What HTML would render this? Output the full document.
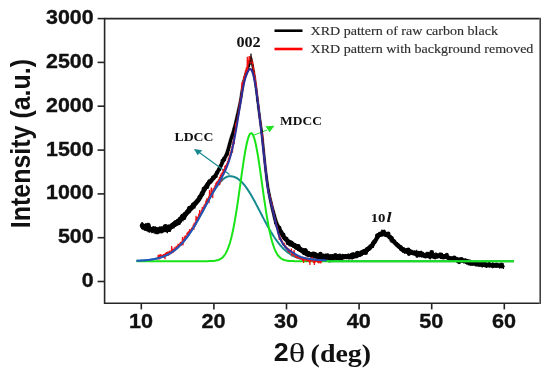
<!DOCTYPE html>
<html><head><meta charset="utf-8"><style>
html,body{margin:0;padding:0;background:#fff;width:550px;height:376px;overflow:hidden}
svg{display:block;filter:blur(0.3px)}
.tk{font-family:"Liberation Sans",Arial,sans-serif;font-weight:bold;font-size:20px;fill:#111;stroke:#111;stroke-width:0.35px}
.sr{font-family:"Liberation Serif","Times New Roman",serif}
</style></head><body>
<svg width="550" height="376" viewBox="0 0 550 376">
<defs><linearGradient id="bg1" gradientUnits="userSpaceOnUse" x1="136" y1="0" x2="327" y2="0">
<stop offset="0" stop-color="#2258c0"/><stop offset="0.42" stop-color="#2254bb"/><stop offset="0.53" stop-color="#2a2c98"/>
<stop offset="0.75" stop-color="#2a2c98"/><stop offset="0.85" stop-color="#2450b8"/><stop offset="1" stop-color="#2254bb"/></linearGradient></defs>
<rect x="0" y="0" width="550" height="376" fill="#fff"/>
<!-- frame -->
<path d="M540.2 17.8V304.1" fill="none" stroke="#404040" stroke-width="1.6"/>
<path d="M539.4 18.6H104.6V303.3H539.4" fill="none" stroke="#262626" stroke-width="1.6"/>
<g stroke="#222" stroke-width="1.6">
<line x1="97.6" y1="18.6" x2="104.6" y2="18.6"/>
<line x1="97.6" y1="62.4" x2="104.6" y2="62.4"/>
<line x1="97.6" y1="106.2" x2="104.6" y2="106.2"/>
<line x1="97.6" y1="150.1" x2="104.6" y2="150.1"/>
<line x1="97.6" y1="193.9" x2="104.6" y2="193.9"/>
<line x1="97.6" y1="237.7" x2="104.6" y2="237.7"/>
<line x1="97.6" y1="281.5" x2="104.6" y2="281.5"/>
<line x1="141.3" y1="303.3" x2="141.3" y2="309.4"/>
<line x1="213.9" y1="303.3" x2="213.9" y2="309.4"/>
<line x1="286.5" y1="303.3" x2="286.5" y2="309.4"/>
<line x1="359.1" y1="303.3" x2="359.1" y2="309.4"/>
<line x1="431.7" y1="303.3" x2="431.7" y2="309.4"/>
<line x1="504.3" y1="303.3" x2="504.3" y2="309.4"/>
</g>
<g class="tk" text-anchor="end">
<text transform="translate(93.6,24.0) scale(1.07,1)">3000</text>
<text transform="translate(93.6,67.8) scale(1.07,1)">2500</text>
<text transform="translate(93.6,111.6) scale(1.07,1)">2000</text>
<text transform="translate(93.6,155.5) scale(1.07,1)">1500</text>
<text transform="translate(93.6,199.3) scale(1.07,1)">1000</text>
<text transform="translate(93.6,243.1) scale(1.07,1)">500</text>
<text transform="translate(93.6,286.9) scale(1.07,1)">0</text>
</g>
<g class="tk" text-anchor="middle">
<text transform="translate(140.9,327.7) scale(1.08,1)">10</text>
<text transform="translate(213.5,327.7) scale(1.08,1)">20</text>
<text transform="translate(286.1,327.7) scale(1.08,1)">30</text>
<text transform="translate(358.7,327.7) scale(1.08,1)">40</text>
<text transform="translate(431.3,327.7) scale(1.08,1)">50</text>
<text transform="translate(503.9,327.7) scale(1.08,1)">60</text>
</g>
<text transform="translate(29.7,143.6) rotate(-90) scale(1,1.08)" text-anchor="middle" style="font-family:'Liberation Sans',Arial,sans-serif;font-weight:bold;font-size:25px;fill:#111">Intensity (a.u.)</text>
<text transform="translate(273.7,361.3) scale(1.04,1)" style="font-family:'Liberation Sans',Arial,sans-serif;font-weight:bold;font-size:25.8px;fill:#111">2</text>
<text class="sr" transform="translate(288.8,361.6) scale(1.28,1)" style="font-size:27px;fill:#111">θ</text>
<text class="sr" transform="translate(310.6,361.6) scale(1.074,1)" style="font-weight:bold;font-size:26px;fill:#111">(deg)</text>
<!-- legend -->
<line x1="274.5" y1="30.7" x2="302.5" y2="30.7" stroke="#000" stroke-width="2.6"/>
<line x1="274.5" y1="49" x2="302.5" y2="49" stroke="#f00" stroke-width="2.6"/>
<g class="sr" style="font-size:13px;fill:#2e2e2e;stroke:#2e2e2e;stroke-width:0.15px">
<text transform="translate(310.6,34.8) scale(1.08,1)">XRD pattern of raw carbon black</text>
<text transform="translate(310.6,53.3) scale(1.08,1)">XRD pattern with background removed</text>
</g>
<!-- data -->
<line x1="253.5" y1="135.3" x2="267" y2="130" stroke="#22e022" stroke-width="1"/>
<polygon points="265.5,126.3 274.5,125.8 269.5,132.3" fill="#22e022"/>
<path d="M141.4 228.0L141.6 228.1L141.7 228.2L141.9 228.3L142.0 228.4L142.3 228.5L142.5 228.6L142.7 228.8L143.0 229.0L143.3 229.1L143.6 229.3L144.0 229.5L144.2 229.6L144.5 229.7L144.7 229.8L145.0 230.0L145.2 230.1L145.5 230.2L145.8 230.3L146.0 230.4L146.3 230.6L146.6 230.7L146.9 230.8L147.1 230.9L147.4 231.0L147.7 231.1L148.0 231.2L148.3 231.3L148.6 231.4L148.9 231.5L149.2 231.6L149.5 231.6L149.7 231.7L150.0 231.7L150.2 231.8L150.5 231.9L150.8 231.9L151.0 232.0L151.3 232.0L151.6 232.1L151.8 232.1L152.1 232.2L152.4 232.2L152.7 232.3L153.0 232.3L153.2 232.4L153.5 232.4L153.8 232.4L154.1 232.5L154.4 232.5L154.8 232.5L155.1 232.5L155.3 232.5L155.6 232.5L155.8 232.5L156.1 232.5L156.3 232.5L156.6 232.5L156.8 232.5L157.1 232.5L157.3 232.5L157.6 232.4L157.9 232.4L158.1 232.4L158.4 232.4L158.6 232.4L158.9 232.4L159.1 232.4L159.4 232.4L159.6 232.4L159.9 232.4L160.2 232.4L160.5 232.3L160.8 232.3L161.1 232.3L161.4 232.3L161.7 232.2L162.0 232.2L162.3 232.1L162.5 232.1L162.8 232.0L163.1 231.9L163.4 231.9L163.6 231.8L163.9 231.7L164.2 231.7L164.4 231.6L164.7 231.5L164.9 231.5L165.2 231.4L165.4 231.3L165.7 231.3L165.9 231.2L166.2 231.1L166.5 231.1L166.7 231.0L167.0 230.9L167.3 230.8L167.5 230.7L167.8 230.7L168.1 230.6L168.3 230.5L168.6 230.4L168.9 230.3L169.1 230.2L169.4 230.1L169.7 230.0L170.0 229.9L170.2 229.8L170.5 229.7L170.8 229.5L171.1 229.4L171.4 229.3L171.7 229.1L172.0 229.0L172.2 228.8L172.5 228.7L172.8 228.5L173.1 228.3L173.4 228.1L173.6 228.0L173.9 227.8L174.2 227.6L174.5 227.4L174.7 227.2L175.0 227.0L175.3 226.8L175.5 226.6L175.8 226.4L176.0 226.3L176.3 226.1L176.5 225.9L176.8 225.7L177.0 225.5L177.3 225.3L177.5 225.1L177.8 224.9L178.0 224.7L178.3 224.5L178.6 224.3L178.8 224.1L179.1 223.9L179.3 223.6L179.6 223.4L179.9 223.2L180.1 223.0L180.4 222.8L180.6 222.5L180.9 222.3L181.1 222.1L181.4 221.8L181.7 221.6L181.9 221.4L182.2 221.1L182.4 220.9L182.7 220.6L182.9 220.4L183.2 220.2L183.5 219.9L183.7 219.7L184.0 219.4L184.2 219.1L184.5 218.8L184.8 218.6L185.0 218.3L185.3 218.0L185.5 217.7L185.8 217.4L186.1 217.1L186.3 216.9L186.6 216.6L186.8 216.3L187.1 216.0L187.3 215.7L187.6 215.4L187.8 215.1L188.1 214.8L188.3 214.6L188.5 214.3L188.8 214.0L189.0 213.7L189.3 213.4L189.5 213.2L189.8 212.9L190.0 212.6L190.3 212.4L190.5 212.1L190.7 211.8L191.0 211.6L191.2 211.3L191.5 211.0L191.7 210.7L192.0 210.5L192.2 210.2L192.5 209.9L192.7 209.7L193.0 209.4L193.2 209.1L193.5 208.8L193.7 208.6L194.0 208.3L194.2 208.0L194.5 207.7L194.7 207.5L195.0 207.2L195.2 206.9L195.5 206.6L195.7 206.4L196.0 206.1L196.2 205.8L196.4 205.6L196.7 205.3L196.9 205.0L197.2 204.8L197.4 204.5L197.7 204.2L197.9 203.9L198.2 203.6L198.5 203.3L198.7 203.0L199.0 202.7L199.3 202.4L199.5 202.1L199.8 201.7L200.1 201.4L200.3 201.0L200.6 200.6L200.9 200.2L201.2 199.8L201.4 199.3L201.7 198.9L202.0 198.4L202.2 198.0L202.5 197.5L202.7 197.0L203.0 196.5L203.2 196.1L203.5 195.6L203.7 195.1L203.9 194.7L204.2 194.2L204.4 193.8L204.6 193.4L204.9 192.9L205.1 192.5L205.4 192.0L205.6 191.6L205.9 191.1L206.1 190.6L206.4 190.2L206.6 189.8L206.9 189.3L207.1 188.9L207.3 188.5L207.6 188.1L207.8 187.7L208.0 187.3L208.2 187.0L208.5 186.7L208.7 186.4L208.9 186.1L209.1 185.8L209.3 185.5L209.6 185.2L209.8 184.9L210.0 184.7L210.2 184.4L210.5 184.2L210.7 183.9L210.9 183.7L211.2 183.5L211.4 183.2L211.7 183.0L211.9 182.7L212.2 182.5L212.4 182.2L212.7 181.9L212.9 181.7L213.2 181.4L213.4 181.1L213.7 180.8L214.0 180.5L214.2 180.2L214.5 179.9L214.8 179.6L215.0 179.2L215.3 178.9L215.6 178.5L215.8 178.1L216.1 177.7L216.3 177.3L216.6 176.9L216.9 176.5L217.1 176.1L217.4 175.7L217.6 175.3L217.9 174.9L218.1 174.5L218.4 174.1L218.6 173.7L218.9 173.3L219.1 172.8L219.4 172.4L219.6 172.0L219.9 171.6L220.1 171.1L220.4 170.7L220.6 170.2L220.9 169.7L221.1 169.2L221.4 168.7L221.7 168.2L221.9 167.6L222.2 167.1L222.4 166.5L222.7 166.0L222.9 165.4L223.1 164.9L223.4 164.4L223.6 163.9L223.9 163.4L224.1 162.8L224.4 162.3L224.6 161.8L224.9 161.3L225.1 160.8L225.3 160.4L225.6 159.9L225.8 159.4L226.1 159.0L226.3 158.6L226.5 158.2L226.8 157.8L227.0 157.3L227.3 156.9L227.6 156.3L227.8 155.8L228.1 155.2L228.4 154.5L228.6 153.8L228.9 153.0L229.2 152.1L229.4 151.3L229.7 150.4L229.9 149.5L230.2 148.6L230.4 147.7L230.7 146.8L230.9 145.9L231.2 144.9L231.4 143.9L231.6 142.9L231.9 142.0L232.1 141.0L232.4 140.1L232.6 139.3L232.8 138.5L233.1 137.7L233.3 136.9L233.6 136.1L233.8 135.4L234.0 134.6L234.3 133.8L234.5 133.0L234.8 132.2L235.0 131.3L235.3 130.4L235.5 129.5L235.8 128.5L236.0 127.5L236.2 126.5L236.5 125.5L236.7 124.4L237.0 123.4L237.2 122.3L237.5 121.2L237.7 120.1L237.9 119.0L238.2 117.8L238.4 116.7L238.7 115.6L238.9 114.4L239.1 113.3L239.4 112.2L239.6 111.0L239.9 109.9L240.1 108.7L240.4 107.5L240.6 106.4L240.8 105.1L241.1 103.9L241.3 102.6L241.6 101.3L241.8 100.0L242.1 98.5L242.3 96.9L242.6 95.3L242.8 93.6L243.0 92.0L243.3 90.3L243.5 88.7L243.8 87.2L244.0 85.7L244.2 84.5L244.5 83.3L244.7 82.2L245.0 81.2L245.2 80.1L245.5 79.1L245.7 78.2L245.9 77.3L246.2 76.4L246.4 75.5L246.7 74.7L246.9 73.9L247.1 73.1L247.4 72.4L247.6 71.7L247.8 71.0L248.1 70.5L248.3 69.9L248.6 69.4L248.8 68.8L249.0 68.3L249.3 67.7L249.5 67.1L249.7 66.4L250.0 65.7L250.2 64.9L250.5 64.1L250.7 62.8L250.9 61.2L251.1 59.7L251.4 58.5L251.5 58.0L250.3 58.0L250.5 58.6L250.7 59.7L250.9 61.2L251.2 62.7L251.4 64.2L251.6 65.5L251.8 66.9L252.1 68.3L252.3 69.7L252.5 71.2L252.7 72.7L253.0 74.3L253.2 75.9L253.5 77.5L253.7 79.2L254.0 80.9L254.2 82.7L254.5 84.5L254.7 86.5L255.0 88.4L255.2 90.4L255.5 92.4L255.7 94.4L256.0 96.3L256.2 98.3L256.5 100.4L256.7 102.4L257.0 104.5L257.2 106.6L257.5 108.6L257.7 110.6L258.0 112.5L258.2 114.4L258.5 116.2L258.7 118.0L259.0 119.8L259.2 121.5L259.5 123.3L259.7 125.1L260.0 127.0L260.2 128.9L260.5 130.9L260.7 132.9L261.0 135.0L261.2 137.2L261.4 139.5L261.7 141.9L261.9 144.4L262.2 147.0L262.4 149.6L262.7 152.1L262.9 154.6L263.2 157.1L263.4 159.5L263.7 162.0L263.9 164.4L264.2 166.7L264.4 169.0L264.6 171.1L264.9 173.2L265.1 175.2L265.4 177.2L265.6 179.2L265.9 181.1L266.1 182.9L266.4 184.6L266.6 186.3L266.9 187.9L267.1 189.4L267.3 190.8L267.6 192.2L267.8 193.6L268.0 194.9L268.3 196.2L268.5 197.4L268.7 198.6L268.9 199.8L269.2 201.0L269.4 202.1L269.6 203.2L269.9 204.3L270.1 205.4L270.3 206.5L270.6 207.5L270.8 208.5L271.0 209.5L271.3 210.5L271.5 211.4L271.7 212.4L272.0 213.3L272.2 214.3L272.4 215.3L272.6 216.3L272.9 217.3L273.1 218.3L273.3 219.3L273.6 220.2L273.8 221.1L274.1 222.0L274.3 222.8L274.6 223.5L274.8 224.2L275.0 224.8L275.3 225.4L275.5 226.0L275.8 226.6L276.0 227.2L276.2 227.8L276.5 228.3L276.8 228.8L277.0 229.3L277.3 229.8L277.5 230.3L277.8 230.7L278.0 231.2L278.3 231.7L278.5 232.1L278.8 232.6L279.0 233.0L279.3 233.5L279.5 233.9L279.8 234.4L280.0 234.8L280.3 235.3L280.5 235.7L280.8 236.1L281.1 236.5L281.3 236.9L281.6 237.3L281.8 237.7L282.1 238.1L282.4 238.5L282.6 238.8L282.9 239.2L283.2 239.5L283.5 239.8L283.7 240.1L284.0 240.4L284.3 240.7L284.6 241.0L284.8 241.3L285.1 241.5L285.4 241.8L285.6 242.1L285.9 242.3L286.2 242.5L286.4 242.8L286.7 243.0L286.9 243.2L287.2 243.4L287.5 243.6L287.7 243.9L288.0 244.1L288.2 244.3L288.5 244.5L288.7 244.7L289.0 244.9L289.3 245.1L289.5 245.3L289.8 245.4L290.1 245.6L290.3 245.8L290.6 246.0L290.8 246.2L291.1 246.4L291.4 246.5L291.6 246.7L291.9 246.9L292.1 247.0L292.4 247.2L292.6 247.4L292.9 247.5L293.1 247.7L293.4 247.8L293.6 248.0L293.9 248.1L294.2 248.3L294.4 248.5L294.7 248.6L295.0 248.8L295.2 248.9L295.5 249.1L295.7 249.2L296.0 249.3L296.2 249.5L296.5 249.6L296.7 249.8L297.0 249.9L297.2 250.0L297.5 250.2L297.7 250.3L297.9 250.4L298.2 250.6L298.4 250.7L298.6 250.8L298.8 251.0L299.0 251.1L299.3 251.3L299.5 251.4L299.7 251.6L299.9 251.7L300.2 251.9L300.4 252.1L300.7 252.3L300.9 252.5L301.2 252.7L301.4 252.9L301.7 253.1L302.0 253.2L302.3 253.4L302.6 253.6L302.9 253.8L303.2 254.0L303.5 254.2L303.8 254.3L304.1 254.5L304.4 254.6L304.6 254.7L304.9 254.8L305.2 254.9L305.4 255.0L305.7 255.2L305.9 255.3L306.2 255.4L306.5 255.5L306.7 255.6L307.0 255.7L307.3 255.8L307.5 255.9L307.8 256.0L308.1 256.0L308.3 256.1L308.6 256.2L308.8 256.3L309.1 256.4L309.4 256.5L309.6 256.6L309.9 256.6L310.2 256.7L310.4 256.8L310.7 256.9L311.0 256.9L311.2 257.0L311.5 257.1L311.8 257.2L312.0 257.2L312.3 257.3L312.5 257.3L312.8 257.4L313.1 257.5L313.3 257.5L313.6 257.6L313.9 257.6L314.1 257.7L314.4 257.7L314.7 257.8L314.9 257.8L315.2 257.8L315.4 257.9L315.7 257.9L316.0 258.0L316.2 258.0L316.5 258.0L316.7 258.1L317.0 258.1L317.2 258.1L317.5 258.2L317.8 258.2L318.0 258.2L318.3 258.3L318.5 258.3L318.8 258.3L319.0 258.4L319.3 258.4L319.5 258.4L319.8 258.5L320.1 258.5L320.3 258.5L320.6 258.5L320.8 258.6L321.1 258.6L321.3 258.6L321.6 258.6L321.8 258.7L322.1 258.7L322.3 258.7L322.6 258.7L322.9 258.8L323.1 258.8L323.4 258.8L323.6 258.8L323.9 258.8L324.1 258.9L324.4 258.9L324.6 258.9L324.9 258.9L325.1 258.9L325.4 258.9L325.6 259.0L325.9 259.0L326.1 259.0L326.4 259.0L326.6 259.0L326.9 259.1L327.1 259.1L327.4 259.1L327.6 259.1L327.9 259.1L328.1 259.2L328.4 259.2L328.6 259.2L328.9 259.2L329.1 259.2L329.4 259.2L329.7 259.3L329.9 259.3L330.2 259.3L330.4 259.3L330.7 259.3L330.9 259.3L331.2 259.3L331.4 259.4L331.7 259.4L332.0 259.4L332.2 259.4L332.5 259.4L332.7 259.4L333.0 259.4L333.2 259.4L333.5 259.4L333.8 259.4L334.0 259.4L334.3 259.4L334.5 259.4L334.8 259.4L335.1 259.4L335.3 259.4L335.6 259.4L335.8 259.4L336.1 259.4L336.3 259.4L336.6 259.4L336.9 259.4L337.1 259.4L337.4 259.4L337.6 259.4L337.9 259.4L338.1 259.3L338.4 259.3L338.6 259.3L338.9 259.3L339.1 259.3L339.4 259.3L339.7 259.3L339.9 259.2L340.2 259.2L340.4 259.2L340.7 259.2L340.9 259.2L341.2 259.2L341.4 259.2L341.7 259.1L341.9 259.1L342.2 259.1L342.4 259.1L342.7 259.1L342.9 259.1L343.2 259.0L343.4 259.0L343.7 259.0L343.9 259.0L344.2 259.0L344.4 258.9L344.7 258.9L344.9 258.9L345.2 258.9L345.4 258.9L345.7 258.8L346.0 258.8L346.2 258.8L346.5 258.8L346.7 258.8L347.0 258.7L347.2 258.7L347.5 258.7L347.7 258.7L348.0 258.6L348.3 258.6L348.5 258.6L348.8 258.6L349.0 258.5L349.3 258.5L349.5 258.5L349.8 258.4L350.0 258.4L350.3 258.4L350.6 258.3L350.8 258.3L351.1 258.3L351.3 258.2L351.6 258.2L351.8 258.2L352.1 258.1L352.4 258.1L352.6 258.0L352.9 258.0L353.1 258.0L353.4 257.9L353.6 257.9L353.9 257.8L354.1 257.8L354.4 257.7L354.7 257.7L354.9 257.6L355.2 257.6L355.4 257.5L355.7 257.5L356.0 257.4L356.3 257.4L356.5 257.3L356.8 257.2L357.1 257.1L357.4 257.1L357.6 257.0L357.9 256.9L358.2 256.8L358.4 256.7L358.7 256.6L359.0 256.5L359.2 256.4L359.5 256.3L359.8 256.2L360.0 256.1L360.3 256.0L360.6 255.9L360.8 255.8L361.1 255.7L361.4 255.5L361.7 255.4L362.0 255.2L362.3 255.1L362.6 254.9L362.9 254.7L363.1 254.6L363.4 254.4L363.7 254.2L363.9 254.0L364.2 253.9L364.4 253.7L364.7 253.5L364.9 253.3L365.2 253.2L365.4 253.0L365.6 252.8L365.9 252.7L366.1 252.5L366.3 252.4L366.6 252.3L366.8 252.1L367.1 252.0L367.3 251.8L367.6 251.7L367.8 251.5L368.1 251.4L368.3 251.2L368.6 251.1L368.9 250.9L369.1 250.7L369.4 250.5L369.7 250.4L369.9 250.2L370.2 250.0L370.5 249.7L370.8 249.5L371.1 249.3L371.4 249.0L371.7 248.7L372.0 248.4L372.3 248.1L372.5 247.8L372.8 247.5L373.1 247.1L373.4 246.8L373.6 246.5L373.9 246.1L374.2 245.7L374.4 245.4L374.7 245.0L374.9 244.6L375.2 244.3L375.4 243.9L375.7 243.6L375.9 243.2L376.2 242.9L376.4 242.5L376.7 242.2L376.9 241.8L377.2 241.4L377.5 240.9L377.7 240.5L378.0 240.1L378.3 239.6L378.5 239.2L378.8 238.8L379.0 238.4L379.2 238.0L379.5 237.6L379.7 237.2L379.9 236.9L380.1 236.6L380.3 236.3L380.5 236.1L380.7 235.9L380.8 235.8L380.9 235.8L381.0 235.7L381.2 235.6L381.4 235.5L381.6 235.4L381.8 235.3L382.0 235.2L382.2 235.1L382.4 235.1L382.6 235.0L382.7 235.0L382.8 235.0L382.9 235.0L383.0 235.0L383.1 235.0L383.2 235.0L383.3 235.0L383.5 235.1L383.6 235.1L383.8 235.2L384.0 235.3L384.2 235.4L384.5 235.5L384.7 235.6L385.0 235.7L385.2 235.8L385.3 235.9L385.5 236.0L385.7 236.1L385.9 236.2L386.1 236.4L386.3 236.5L386.5 236.7L386.7 236.9L387.0 237.1L387.2 237.3L387.4 237.6L387.7 237.8L387.9 238.0L388.2 238.3L388.4 238.5L388.7 238.8L388.9 239.0L389.1 239.2L389.3 239.4L389.6 239.7L389.8 240.0L390.0 240.2L390.3 240.5L390.5 240.8L390.8 241.1L391.0 241.4L391.3 241.7L391.5 242.0L391.8 242.4L392.0 242.7L392.3 243.0L392.6 243.3L392.8 243.6L393.1 243.9L393.4 244.2L393.7 244.4L393.9 244.7L394.2 245.0L394.4 245.2L394.7 245.4L395.0 245.7L395.2 245.9L395.5 246.2L395.7 246.4L396.0 246.6L396.3 246.8L396.5 247.1L396.8 247.3L397.0 247.5L397.3 247.7L397.5 247.9L397.8 248.2L398.1 248.4L398.3 248.6L398.6 248.8L398.8 249.0L399.1 249.2L399.3 249.4L399.5 249.6L399.8 249.8L400.0 250.0L400.3 250.2L400.5 250.4L400.8 250.6L401.1 250.8L401.3 251.0L401.6 251.3L401.9 251.5L402.2 251.7L402.5 251.9L402.8 252.0L403.1 252.2L403.4 252.4L403.7 252.6L404.0 252.7L404.4 252.9L404.6 253.0L404.9 253.1L405.2 253.1L405.5 253.2L405.8 253.3L406.0 253.4L406.3 253.5L406.6 253.5L406.8 253.6L407.1 253.7L407.4 253.7L407.6 253.8L407.9 253.8L408.1 253.9L408.4 254.0L408.6 254.0L408.9 254.1L409.1 254.1L409.4 254.2L409.6 254.2L409.9 254.3L410.1 254.3L410.4 254.4L410.7 254.4L410.9 254.5L411.2 254.5L411.4 254.6L411.7 254.6L411.9 254.7L412.2 254.7L412.4 254.8L412.7 254.8L412.9 254.9L413.2 254.9L413.4 255.0L413.7 255.0L413.9 255.1L414.2 255.1L414.4 255.2L414.6 255.2L414.9 255.3L415.1 255.3L415.3 255.4L415.6 255.4L415.8 255.5L416.1 255.6L416.3 255.6L416.5 255.7L416.8 255.8L417.1 255.8L417.3 255.9L417.6 256.0L417.8 256.0L418.1 256.1L418.4 256.2L418.6 256.2L418.9 256.3L419.2 256.3L419.5 256.4L419.7 256.4L420.0 256.5L420.2 256.5L420.5 256.6L420.7 256.6L421.0 256.6L421.2 256.7L421.5 256.7L421.8 256.8L422.0 256.8L422.3 256.8L422.5 256.9L422.8 256.9L423.0 256.9L423.3 257.0L423.5 257.0L423.8 257.0L424.0 257.1L424.3 257.1L424.6 257.1L424.8 257.2L425.1 257.2L425.3 257.2L425.6 257.3L425.8 257.3L426.1 257.3L426.3 257.4L426.6 257.4L426.9 257.4L427.1 257.4L427.4 257.5L427.6 257.5L427.9 257.5L428.1 257.5L428.4 257.5L428.7 257.6L428.9 257.6L429.2 257.6L429.4 257.6L429.7 257.6L430.0 257.6L430.2 257.6L430.5 257.7L430.7 257.7L431.0 257.7L431.2 257.7L431.5 257.7L431.7 257.7L432.0 257.7L432.2 257.7L432.5 257.7L432.8 257.7L433.0 257.7L433.3 257.7L433.5 257.7L433.8 257.7L434.0 257.8L434.3 257.8L434.5 257.8L434.8 257.8L435.0 257.8L435.3 257.8L435.5 257.8L435.8 257.8L436.0 257.8L436.3 257.8L436.5 257.8L436.8 257.8L437.0 257.8L437.2 257.8L437.5 257.8L437.7 257.8L438.0 257.8L438.2 257.8L438.5 257.9L438.7 257.9L439.0 257.9L439.2 257.9L439.5 257.9L439.7 257.9L440.0 257.9L440.2 257.9L440.4 257.9L440.7 258.0L440.9 258.0L441.2 258.0L441.4 258.0L441.6 258.0L441.9 258.0L442.1 258.1L442.4 258.1L442.6 258.1L442.8 258.1L443.1 258.2L443.3 258.2L443.6 258.2L443.8 258.3L444.0 258.3L444.3 258.3L444.5 258.4L444.7 258.4L444.9 258.4L445.0 258.5L445.2 258.5L445.4 258.6L445.6 258.6L445.8 258.7L446.0 258.8L446.2 258.9L446.5 259.1L446.7 259.2L446.9 259.3L447.2 259.4L447.5 259.6L447.8 259.7L448.0 259.8L448.3 259.9L448.6 260.1L449.0 260.2L449.3 260.3L449.6 260.4L449.9 260.4L450.2 260.5L450.4 260.5L450.7 260.6L451.0 260.6L451.2 260.7L451.5 260.7L451.7 260.8L452.0 260.8L452.3 260.8L452.5 260.9L452.8 260.9L453.0 261.0L453.3 261.0L453.6 261.0L453.8 261.1L454.1 261.1L454.3 261.1L454.6 261.1L454.8 261.2L455.1 261.2L455.3 261.2L455.6 261.3L455.8 261.3L456.1 261.3L456.3 261.4L456.6 261.4L456.8 261.4L457.1 261.4L457.3 261.5L457.5 261.5L457.8 261.5L458.0 261.6L458.3 261.6L458.5 261.6L458.7 261.7L459.0 261.7L459.2 261.8L459.5 261.8L459.7 261.9L459.9 261.9L460.2 261.9L460.4 262.0L460.6 262.1L460.9 262.1L461.1 262.2L461.3 262.2L461.6 262.3L461.8 262.3L462.1 262.4L462.3 262.5L462.5 262.5L462.8 262.6L463.0 262.7L463.3 262.7L463.5 262.8L463.8 262.9L464.0 263.0L464.3 263.0L464.5 263.1L464.7 263.2L465.0 263.3L465.2 263.3L465.5 263.4L465.7 263.5L466.0 263.6L466.2 263.7L466.5 263.7L466.8 263.8L467.0 263.9L467.3 264.0L467.5 264.0L467.8 264.1L468.0 264.2L468.3 264.3L468.5 264.3L468.8 264.4L469.1 264.5L469.3 264.6L469.6 264.6L469.8 264.7L470.1 264.8L470.4 264.8L470.6 264.9L470.9 265.0L471.1 265.0L471.4 265.1L471.7 265.1L471.9 265.2L472.2 265.2L472.4 265.3L472.7 265.3L472.9 265.4L473.2 265.4L473.4 265.5L473.7 265.5L473.9 265.6L474.2 265.6L474.4 265.7L474.7 265.7L474.9 265.8L475.2 265.8L475.5 265.9L475.7 265.9L476.0 266.0L476.2 266.0L476.5 266.1L476.7 266.1L477.0 266.2L477.3 266.2L477.5 266.2L477.8 266.3L478.0 266.3L478.3 266.4L478.6 266.4L478.8 266.4L479.1 266.5L479.3 266.5L479.6 266.5L479.9 266.5L480.1 266.6L480.4 266.6L480.6 266.6L480.9 266.6L481.1 266.7L481.4 266.7L481.6 266.7L481.9 266.7L482.1 266.7L482.4 266.8L482.7 266.8L482.9 266.8L483.2 266.8L483.4 266.8L483.7 266.9L483.9 266.9L484.2 266.9L484.4 266.9L484.7 266.9L484.9 266.9L485.2 267.0L485.4 267.0L485.7 267.0L485.9 267.0L486.2 267.0L486.4 267.0L486.7 267.1L486.9 267.1L487.2 267.1L487.4 267.1L487.7 267.1L487.9 267.1L488.2 267.1L488.5 267.1L488.7 267.2L489.0 267.2L489.2 267.2L489.5 267.2L489.7 267.2L490.0 267.2L490.2 267.2L490.5 267.2L490.7 267.3L491.0 267.3L491.2 267.3L491.5 267.3L491.7 267.3L492.0 267.3L492.2 267.3L492.5 267.3L492.7 267.3L493.0 267.3L493.2 267.3L493.5 267.4L493.7 267.4L494.0 267.4L494.2 267.4L494.5 267.4L494.7 267.4L495.0 267.4L495.2 267.4L495.5 267.4L495.7 267.4L496.0 267.4L496.2 267.4L496.5 267.4L496.7 267.4L497.0 267.5L497.2 267.5L497.5 267.5L497.7 267.5L498.0 267.5L498.2 267.5L498.5 267.5L498.7 267.5L498.9 267.5L499.2 267.6L499.4 267.6L499.7 267.6L499.9 267.6L500.1 267.6L500.3 267.6L500.6 267.7L500.8 267.7L501.0 267.7L501.2 267.8L501.5 267.8L501.7 267.9L501.9 267.9L502.2 268.0L502.4 268.0L503.2 264.5L502.9 264.4L502.7 264.4L502.4 264.3L502.1 264.3L501.9 264.2L501.6 264.2L501.3 264.1L501.0 264.1L500.8 264.1L500.5 264.0L500.2 264.0L499.9 264.0L499.7 264.0L499.4 263.9L499.2 263.9L498.9 263.9L498.6 263.9L498.4 263.9L498.1 263.9L497.9 263.9L497.6 263.9L497.4 263.8L497.1 263.8L496.9 263.8L496.6 263.8L496.4 263.8L496.1 263.8L495.9 263.8L495.6 263.8L495.4 263.8L495.1 263.8L494.9 263.8L494.6 263.7L494.4 263.7L494.1 263.7L493.9 263.7L493.6 263.7L493.4 263.7L493.1 263.7L492.9 263.7L492.6 263.7L492.4 263.7L492.1 263.7L491.9 263.7L491.6 263.6L491.4 263.6L491.1 263.6L490.9 263.6L490.6 263.6L490.4 263.6L490.1 263.6L489.9 263.6L489.6 263.6L489.4 263.5L489.1 263.5L488.9 263.5L488.6 263.5L488.4 263.5L488.2 263.5L487.9 263.5L487.7 263.4L487.4 263.4L487.2 263.4L486.9 263.4L486.7 263.4L486.4 263.4L486.2 263.4L485.9 263.3L485.7 263.3L485.4 263.3L485.2 263.3L484.9 263.3L484.7 263.3L484.4 263.2L484.2 263.2L483.9 263.2L483.7 263.2L483.4 263.2L483.2 263.1L482.9 263.1L482.7 263.1L482.5 263.1L482.2 263.1L482.0 263.0L481.7 263.0L481.5 263.0L481.2 263.0L481.0 262.9L480.7 262.9L480.5 262.9L480.2 262.9L480.0 262.8L479.8 262.8L479.5 262.8L479.3 262.8L479.0 262.7L478.8 262.7L478.6 262.7L478.3 262.6L478.1 262.6L477.8 262.6L477.6 262.5L477.4 262.5L477.1 262.4L476.9 262.4L476.6 262.3L476.4 262.3L476.1 262.3L475.9 262.2L475.7 262.2L475.4 262.1L475.2 262.1L474.9 262.0L474.7 262.0L474.4 261.9L474.2 261.9L473.9 261.8L473.7 261.8L473.4 261.7L473.2 261.7L472.9 261.6L472.7 261.5L472.4 261.5L472.2 261.4L472.0 261.4L471.7 261.3L471.5 261.3L471.2 261.2L471.0 261.2L470.8 261.1L470.5 261.0L470.3 261.0L470.0 260.9L469.8 260.8L469.6 260.8L469.3 260.7L469.1 260.6L468.8 260.5L468.6 260.5L468.3 260.4L468.1 260.3L467.8 260.2L467.6 260.2L467.4 260.1L467.1 260.0L466.9 259.9L466.6 259.9L466.4 259.8L466.1 259.7L465.9 259.6L465.6 259.5L465.3 259.5L465.1 259.4L464.8 259.3L464.6 259.2L464.3 259.2L464.1 259.1L463.8 259.0L463.6 258.9L463.3 258.9L463.0 258.8L462.8 258.7L462.5 258.7L462.3 258.6L462.0 258.5L461.7 258.5L461.5 258.4L461.2 258.3L460.9 258.3L460.7 258.2L460.4 258.2L460.1 258.1L459.9 258.1L459.6 258.0L459.4 258.0L459.1 257.9L458.8 257.9L458.6 257.9L458.3 257.8L458.1 257.8L457.8 257.7L457.5 257.7L457.3 257.7L457.0 257.6L456.8 257.6L456.5 257.6L456.3 257.5L456.0 257.5L455.8 257.5L455.5 257.5L455.3 257.4L455.0 257.4L454.8 257.4L454.5 257.3L454.3 257.3L454.0 257.3L453.8 257.2L453.6 257.2L453.3 257.2L453.1 257.1L452.8 257.1L452.6 257.1L452.4 257.0L452.1 257.0L451.9 256.9L451.6 256.9L451.4 256.9L451.2 256.8L450.9 256.8L450.7 256.7L450.5 256.7L450.3 256.6L450.1 256.6L450.0 256.5L449.8 256.4L449.6 256.3L449.3 256.2L449.1 256.1L448.9 256.0L448.7 255.9L448.4 255.8L448.1 255.7L447.9 255.5L447.6 255.4L447.3 255.3L447.0 255.1L446.7 255.0L446.4 254.9L446.1 254.8L445.7 254.7L445.4 254.6L445.1 254.6L444.8 254.5L444.6 254.5L444.3 254.5L444.0 254.4L443.8 254.4L443.5 254.4L443.3 254.3L443.0 254.3L442.7 254.3L442.5 254.3L442.2 254.2L442.0 254.2L441.7 254.2L441.4 254.2L441.2 254.2L440.9 254.1L440.7 254.1L440.4 254.1L440.1 254.1L439.9 254.1L439.6 254.1L439.4 254.1L439.1 254.0L438.9 254.0L438.6 254.0L438.4 254.0L438.1 254.0L437.9 254.0L437.6 254.0L437.4 254.0L437.1 254.0L436.8 254.0L436.6 254.0L436.3 254.0L436.1 254.0L435.8 253.9L435.6 253.9L435.3 253.9L435.1 253.9L434.8 253.9L434.6 253.9L434.3 253.9L434.1 253.9L433.8 253.9L433.6 253.9L433.3 253.9L433.1 253.9L432.8 253.9L432.6 253.9L432.4 253.9L432.1 253.9L431.9 253.8L431.6 253.8L431.4 253.8L431.1 253.8L430.9 253.8L430.6 253.8L430.4 253.8L430.1 253.8L429.9 253.8L429.7 253.7L429.4 253.7L429.2 253.7L428.9 253.7L428.7 253.7L428.5 253.7L428.2 253.6L428.0 253.6L427.7 253.6L427.5 253.6L427.2 253.6L427.0 253.5L426.8 253.5L426.5 253.5L426.3 253.4L426.0 253.4L425.8 253.4L425.5 253.4L425.3 253.3L425.0 253.3L424.8 253.3L424.6 253.2L424.3 253.2L424.1 253.2L423.8 253.1L423.6 253.1L423.3 253.1L423.1 253.0L422.8 253.0L422.6 252.9L422.3 252.9L422.1 252.9L421.9 252.8L421.6 252.8L421.4 252.7L421.1 252.7L420.9 252.7L420.6 252.6L420.4 252.6L420.1 252.5L419.9 252.5L419.7 252.5L419.5 252.4L419.2 252.4L419.0 252.3L418.8 252.2L418.5 252.2L418.3 252.1L418.0 252.1L417.8 252.0L417.6 251.9L417.3 251.9L417.0 251.8L416.8 251.7L416.5 251.7L416.3 251.6L416.0 251.5L415.7 251.5L415.5 251.4L415.2 251.3L414.9 251.3L414.7 251.2L414.4 251.2L414.2 251.1L413.9 251.1L413.7 251.0L413.4 251.0L413.2 250.9L412.9 250.9L412.7 250.8L412.4 250.8L412.2 250.8L411.9 250.7L411.7 250.7L411.4 250.6L411.2 250.6L411.0 250.5L410.7 250.5L410.5 250.4L410.2 250.3L410.0 250.3L409.7 250.2L409.5 250.2L409.2 250.1L409.0 250.1L408.7 250.0L408.5 250.0L408.2 249.9L408.0 249.9L407.8 249.8L407.5 249.7L407.3 249.7L407.1 249.6L406.8 249.6L406.6 249.5L406.4 249.4L406.2 249.3L406.0 249.3L405.7 249.2L405.6 249.1L405.4 249.0L405.2 248.9L405.0 248.8L404.8 248.7L404.6 248.6L404.4 248.4L404.2 248.3L404.0 248.1L403.8 248.0L403.5 247.8L403.3 247.6L403.1 247.4L402.8 247.2L402.6 247.0L402.3 246.8L402.1 246.5L401.8 246.3L401.5 246.1L401.3 245.9L401.0 245.7L400.8 245.5L400.5 245.3L400.3 245.1L400.1 244.9L399.8 244.7L399.6 244.5L399.3 244.3L399.1 244.1L398.8 243.9L398.6 243.7L398.4 243.5L398.1 243.2L397.9 243.0L397.6 242.8L397.4 242.6L397.2 242.4L396.9 242.1L396.7 241.9L396.4 241.7L396.2 241.4L396.0 241.2L395.8 240.9L395.5 240.7L395.3 240.4L395.1 240.1L394.8 239.8L394.6 239.5L394.3 239.2L394.1 238.9L393.8 238.6L393.6 238.3L393.3 238.0L393.1 237.7L392.8 237.4L392.5 237.1L392.3 236.8L392.0 236.5L391.7 236.2L391.4 235.9L391.2 235.7L390.9 235.5L390.7 235.2L390.4 235.0L390.2 234.7L389.9 234.5L389.6 234.2L389.4 234.0L389.1 233.7L388.8 233.5L388.5 233.3L388.2 233.0L387.9 232.8L387.6 232.6L387.3 232.4L386.9 232.2L386.6 232.1L386.4 232.0L386.1 231.9L385.9 231.8L385.6 231.6L385.3 231.5L385.0 231.4L384.6 231.3L384.3 231.2L383.9 231.1L383.5 231.1L383.1 231.0L382.7 231.0L382.3 231.1L381.9 231.1L381.5 231.2L381.2 231.3L380.9 231.4L380.6 231.6L380.3 231.7L380.0 231.8L379.7 231.9L379.4 232.1L379.1 232.2L378.7 232.5L378.3 232.8L377.9 233.1L377.6 233.5L377.3 233.9L377.0 234.2L376.7 234.6L376.4 235.1L376.1 235.5L375.9 235.9L375.6 236.4L375.3 236.8L375.1 237.2L374.8 237.6L374.6 238.1L374.4 238.5L374.1 238.9L373.9 239.2L373.7 239.6L373.4 239.9L373.2 240.2L372.9 240.6L372.7 240.9L372.4 241.3L372.2 241.7L371.9 242.0L371.7 242.4L371.4 242.7L371.2 243.1L370.9 243.4L370.7 243.8L370.5 244.1L370.2 244.4L370.0 244.7L369.8 245.0L369.6 245.2L369.3 245.5L369.1 245.7L368.9 245.9L368.7 246.1L368.5 246.3L368.3 246.4L368.1 246.6L367.9 246.8L367.7 246.9L367.4 247.1L367.2 247.2L367.0 247.4L366.7 247.5L366.5 247.7L366.3 247.8L366.0 248.0L365.8 248.1L365.5 248.3L365.3 248.4L365.0 248.6L364.8 248.7L364.5 248.9L364.3 249.0L364.0 249.2L363.7 249.4L363.5 249.5L363.2 249.7L362.9 249.9L362.7 250.1L362.4 250.2L362.2 250.4L361.9 250.6L361.7 250.7L361.4 250.9L361.2 251.1L361.0 251.2L360.7 251.4L360.5 251.5L360.3 251.6L360.1 251.7L359.9 251.9L359.7 252.0L359.5 252.1L359.3 252.2L359.0 252.2L358.8 252.3L358.6 252.4L358.3 252.5L358.1 252.6L357.9 252.7L357.6 252.8L357.4 252.9L357.2 253.0L356.9 253.0L356.7 253.1L356.5 253.2L356.2 253.2L356.0 253.3L355.8 253.4L355.6 253.4L355.3 253.5L355.1 253.5L354.9 253.6L354.7 253.6L354.4 253.7L354.2 253.7L353.9 253.8L353.7 253.8L353.5 253.9L353.2 253.9L353.0 253.9L352.7 254.0L352.5 254.0L352.2 254.1L352.0 254.1L351.7 254.1L351.5 254.2L351.3 254.2L351.0 254.3L350.8 254.3L350.5 254.3L350.3 254.4L350.0 254.4L349.8 254.4L349.6 254.4L349.3 254.5L349.1 254.5L348.8 254.5L348.6 254.6L348.3 254.6L348.1 254.6L347.8 254.6L347.6 254.7L347.4 254.7L347.1 254.7L346.9 254.7L346.6 254.8L346.4 254.8L346.1 254.8L345.9 254.8L345.6 254.8L345.4 254.9L345.2 254.9L344.9 254.9L344.7 254.9L344.4 254.9L344.2 255.0L343.9 255.0L343.7 255.0L343.4 255.0L343.2 255.0L342.9 255.0L342.7 255.1L342.4 255.1L342.2 255.1L341.9 255.1L341.7 255.1L341.4 255.1L341.2 255.2L340.9 255.2L340.7 255.2L340.4 255.2L340.2 255.2L339.9 255.2L339.7 255.3L339.4 255.3L339.2 255.3L339.0 255.3L338.7 255.3L338.5 255.3L338.2 255.3L338.0 255.3L337.7 255.3L337.5 255.3L337.2 255.3L337.0 255.3L336.7 255.4L336.5 255.4L336.3 255.4L336.0 255.4L335.8 255.4L335.5 255.4L335.3 255.4L335.0 255.4L334.8 255.4L334.6 255.4L334.3 255.4L334.1 255.3L333.8 255.3L333.6 255.3L333.4 255.3L333.1 255.3L332.9 255.3L332.6 255.3L332.4 255.3L332.1 255.3L331.9 255.3L331.7 255.2L331.4 255.2L331.2 255.2L330.9 255.2L330.7 255.2L330.4 255.2L330.2 255.1L329.9 255.1L329.7 255.1L329.5 255.1L329.2 255.1L329.0 255.0L328.7 255.0L328.5 255.0L328.2 255.0L328.0 254.9L327.7 254.9L327.5 254.9L327.2 254.9L327.0 254.9L326.7 254.8L326.5 254.8L326.2 254.8L326.0 254.8L325.7 254.7L325.5 254.7L325.2 254.7L325.0 254.7L324.7 254.7L324.5 254.6L324.2 254.6L324.0 254.6L323.7 254.6L323.5 254.5L323.2 254.5L323.0 254.5L322.8 254.5L322.5 254.4L322.3 254.4L322.0 254.4L321.8 254.4L321.5 254.3L321.3 254.3L321.0 254.3L320.8 254.2L320.5 254.2L320.3 254.2L320.1 254.2L319.8 254.1L319.6 254.1L319.3 254.1L319.1 254.0L318.8 254.0L318.6 254.0L318.3 253.9L318.1 253.9L317.9 253.9L317.6 253.8L317.4 253.8L317.1 253.7L316.9 253.7L316.6 253.7L316.4 253.6L316.2 253.6L315.9 253.5L315.7 253.5L315.4 253.5L315.2 253.4L315.0 253.4L314.7 253.3L314.5 253.3L314.3 253.2L314.0 253.2L313.8 253.1L313.6 253.1L313.3 253.0L313.1 252.9L312.8 252.9L312.6 252.8L312.4 252.7L312.1 252.7L311.9 252.6L311.7 252.5L311.4 252.5L311.2 252.4L311.0 252.3L310.7 252.2L310.5 252.2L310.3 252.1L310.0 252.0L309.8 251.9L309.5 251.8L309.3 251.7L309.1 251.7L308.8 251.6L308.6 251.5L308.4 251.4L308.1 251.3L307.9 251.2L307.7 251.1L307.4 251.0L307.2 250.9L306.9 250.8L306.7 250.7L306.5 250.6L306.2 250.5L306.0 250.4L305.8 250.3L305.6 250.2L305.4 250.1L305.2 250.0L305.0 249.8L304.8 249.7L304.6 249.5L304.4 249.4L304.2 249.2L303.9 249.0L303.7 248.8L303.4 248.6L303.2 248.4L302.9 248.3L302.7 248.1L302.4 247.9L302.1 247.7L301.8 247.5L301.6 247.3L301.3 247.1L301.0 246.9L300.7 246.8L300.4 246.6L300.2 246.5L299.9 246.3L299.6 246.2L299.4 246.0L299.1 245.9L298.9 245.8L298.6 245.6L298.4 245.5L298.1 245.4L297.9 245.2L297.6 245.1L297.4 245.0L297.1 244.8L296.9 244.7L296.7 244.6L296.4 244.5L296.2 244.3L296.0 244.2L295.7 244.0L295.5 243.9L295.2 243.7L295.0 243.6L294.7 243.4L294.5 243.3L294.2 243.1L294.0 243.0L293.7 242.8L293.5 242.7L293.3 242.5L293.0 242.4L292.8 242.2L292.5 242.1L292.3 241.9L292.1 241.7L291.8 241.6L291.6 241.4L291.4 241.2L291.1 241.0L290.9 240.8L290.6 240.7L290.4 240.5L290.1 240.3L289.9 240.1L289.7 239.9L289.4 239.7L289.2 239.5L288.9 239.3L288.7 239.1L288.5 238.9L288.2 238.7L288.0 238.5L287.8 238.3L287.5 238.0L287.3 237.8L287.1 237.6L286.9 237.3L286.6 237.1L286.4 236.8L286.2 236.6L286.0 236.3L285.7 236.0L285.5 235.7L285.3 235.3L285.0 235.0L284.8 234.6L284.5 234.3L284.3 233.9L284.1 233.5L283.8 233.1L283.6 232.7L283.3 232.3L283.1 231.9L282.8 231.5L282.6 231.0L282.3 230.6L282.1 230.2L281.8 229.7L281.6 229.3L281.3 228.8L281.1 228.4L280.8 227.9L280.6 227.4L280.3 227.0L280.1 226.5L279.9 226.0L279.6 225.5L279.3 225.0L279.1 224.5L278.8 223.9L278.6 223.4L278.3 222.8L278.0 222.2L277.8 221.5L277.5 220.8L277.3 220.1L277.0 219.3L276.8 218.4L276.5 217.4L276.2 216.4L276.0 215.5L275.7 214.5L275.4 213.5L275.1 212.5L274.9 211.6L274.6 210.6L274.3 209.7L274.1 208.7L273.8 207.8L273.5 206.8L273.3 205.8L273.0 204.7L272.7 203.7L272.5 202.6L272.2 201.5L271.9 200.4L271.7 199.2L271.4 198.1L271.1 196.9L270.8 195.7L270.6 194.4L270.3 193.1L270.0 191.8L269.8 190.4L269.5 189.0L269.2 187.5L269.0 185.9L268.7 184.3L268.5 182.6L268.2 180.7L268.0 178.9L267.7 176.9L267.5 175.0L267.2 172.9L267.0 170.9L266.7 168.7L266.4 166.5L266.2 164.1L265.9 161.7L265.7 159.3L265.4 156.8L265.2 154.4L264.9 151.9L264.7 149.4L264.4 146.8L264.2 144.2L263.9 141.7L263.7 139.3L263.4 137.0L263.1 134.8L262.9 132.7L262.6 130.6L262.4 128.6L262.1 126.7L261.9 124.8L261.6 123.0L261.4 121.2L261.1 119.5L260.9 117.7L260.6 115.9L260.4 114.1L260.1 112.2L259.9 110.3L259.6 108.3L259.4 106.3L259.1 104.2L258.9 102.2L258.6 100.1L258.4 98.1L258.1 96.0L257.9 94.1L257.6 92.1L257.4 90.1L257.1 88.1L256.9 86.2L256.6 84.3L256.4 82.4L256.1 80.6L255.9 78.8L255.6 77.2L255.4 75.5L255.1 73.9L254.9 72.4L254.6 70.8L254.3 69.4L254.0 67.9L253.8 66.5L253.5 65.1L253.2 63.8L252.9 62.4L252.7 60.9L252.4 59.4L252.1 58.2L251.8 57.2L250.1 57.1L249.7 58.1L249.5 59.4L249.2 61.0L248.9 62.4L248.6 63.6L248.4 64.4L248.1 65.1L247.9 65.7L247.6 66.3L247.3 66.8L247.1 67.4L246.8 67.9L246.5 68.4L246.3 69.0L246.0 69.6L245.8 70.2L245.5 70.9L245.2 71.6L245.0 72.4L244.7 73.2L244.4 74.0L244.2 74.9L243.9 75.7L243.7 76.6L243.4 77.6L243.1 78.5L242.9 79.6L242.6 80.6L242.4 81.7L242.1 82.8L241.9 84.0L241.6 85.3L241.3 86.8L241.1 88.3L240.8 89.9L240.6 91.6L240.3 93.3L240.0 94.9L239.8 96.5L239.5 98.1L239.3 99.5L239.0 100.8L238.8 102.1L238.5 103.4L238.3 104.6L238.0 105.8L237.7 107.0L237.5 108.2L237.2 109.3L237.0 110.4L236.7 111.6L236.5 112.7L236.2 113.8L235.9 115.0L235.7 116.1L235.4 117.2L235.2 118.3L234.9 119.4L234.6 120.5L234.4 121.6L234.1 122.7L233.9 123.7L233.6 124.8L233.4 125.8L233.1 126.8L232.8 127.8L232.6 128.7L232.3 129.6L232.1 130.5L231.8 131.3L231.6 132.1L231.3 132.9L231.1 133.6L230.8 134.4L230.5 135.1L230.3 135.9L230.0 136.7L229.8 137.5L229.5 138.4L229.2 139.3L229.0 140.2L228.7 141.2L228.5 142.1L228.2 143.1L227.9 144.1L227.7 145.0L227.4 146.0L227.2 146.8L226.9 147.7L226.7 148.6L226.4 149.5L226.2 150.3L225.9 151.2L225.7 151.9L225.5 152.7L225.2 153.3L225.0 153.8L224.8 154.3L224.5 154.8L224.3 155.2L224.1 155.6L223.8 156.0L223.6 156.4L223.3 156.8L223.0 157.3L222.8 157.8L222.5 158.3L222.3 158.8L222.0 159.3L221.7 159.8L221.5 160.3L221.2 160.8L221.0 161.3L220.7 161.8L220.5 162.3L220.2 162.9L220.0 163.4L219.7 164.0L219.4 164.5L219.2 165.1L218.9 165.6L218.7 166.1L218.4 166.6L218.2 167.1L218.0 167.6L217.7 168.0L217.5 168.5L217.2 168.9L217.0 169.3L216.7 169.7L216.5 170.1L216.2 170.6L216.0 171.0L215.7 171.4L215.5 171.8L215.2 172.2L215.0 172.6L214.7 173.0L214.5 173.4L214.2 173.8L214.0 174.2L213.7 174.5L213.5 174.9L213.3 175.3L213.0 175.6L212.8 176.0L212.5 176.3L212.3 176.6L212.1 176.9L211.8 177.2L211.6 177.5L211.4 177.7L211.1 178.0L210.9 178.2L210.7 178.5L210.4 178.7L210.2 179.0L209.9 179.2L209.7 179.4L209.4 179.7L209.2 179.9L208.9 180.2L208.7 180.4L208.4 180.6L208.2 180.9L207.9 181.2L207.6 181.4L207.4 181.7L207.1 182.0L206.8 182.3L206.5 182.6L206.3 182.9L206.0 183.2L205.7 183.6L205.4 183.9L205.1 184.3L204.9 184.7L204.6 185.1L204.3 185.5L204.0 185.9L203.8 186.4L203.5 186.8L203.2 187.3L203.0 187.7L202.7 188.2L202.5 188.6L202.2 189.1L202.0 189.5L201.7 189.9L201.5 190.4L201.2 190.8L201.0 191.2L200.7 191.7L200.4 192.1L200.2 192.6L199.9 193.1L199.6 193.6L199.4 194.0L199.1 194.5L198.9 194.9L198.6 195.4L198.4 195.8L198.1 196.3L197.9 196.7L197.7 197.1L197.4 197.4L197.2 197.8L197.0 198.1L196.8 198.4L196.5 198.7L196.3 199.0L196.1 199.3L195.8 199.6L195.6 199.8L195.4 200.1L195.1 200.4L194.9 200.6L194.7 200.9L194.4 201.2L194.2 201.4L193.9 201.7L193.7 201.9L193.4 202.2L193.2 202.5L192.9 202.8L192.6 203.0L192.4 203.3L192.1 203.6L191.9 203.9L191.6 204.1L191.4 204.4L191.1 204.7L190.9 204.9L190.6 205.2L190.4 205.5L190.1 205.7L189.9 206.0L189.6 206.3L189.4 206.5L189.1 206.8L188.9 207.1L188.6 207.3L188.4 207.6L188.1 207.9L187.9 208.1L187.6 208.4L187.4 208.7L187.1 209.0L186.8 209.2L186.6 209.5L186.3 209.8L186.1 210.0L185.8 210.3L185.6 210.6L185.3 210.9L185.1 211.2L184.8 211.5L184.5 211.8L184.3 212.0L184.0 212.3L183.8 212.6L183.5 212.9L183.3 213.2L183.0 213.5L182.8 213.7L182.5 214.0L182.3 214.3L182.1 214.5L181.8 214.8L181.6 215.1L181.3 215.3L181.1 215.5L180.9 215.8L180.6 216.0L180.4 216.2L180.1 216.5L179.9 216.7L179.7 216.9L179.4 217.2L179.2 217.4L178.9 217.6L178.7 217.8L178.4 218.1L178.2 218.3L178.0 218.5L177.7 218.7L177.5 218.9L177.2 219.1L177.0 219.3L176.7 219.5L176.5 219.7L176.3 219.9L176.0 220.1L175.8 220.3L175.5 220.5L175.3 220.7L175.1 220.9L174.8 221.0L174.6 221.2L174.3 221.4L174.1 221.6L173.8 221.8L173.6 222.0L173.3 222.2L173.1 222.3L172.8 222.5L172.6 222.7L172.3 222.9L172.1 223.1L171.9 223.2L171.6 223.4L171.4 223.6L171.2 223.7L171.0 223.9L170.7 224.0L170.5 224.1L170.3 224.3L170.1 224.4L169.9 224.5L169.6 224.6L169.4 224.7L169.2 224.8L169.0 224.9L168.8 225.0L168.6 225.1L168.4 225.2L168.1 225.3L167.9 225.4L167.7 225.5L167.5 225.6L167.2 225.7L167.0 225.7L166.8 225.8L166.5 225.9L166.3 226.0L166.1 226.0L165.8 226.1L165.6 226.2L165.4 226.2L165.1 226.3L164.9 226.4L164.7 226.4L164.4 226.5L164.2 226.6L163.9 226.6L163.7 226.7L163.4 226.8L163.2 226.8L162.9 226.9L162.7 226.9L162.5 227.0L162.2 227.1L162.0 227.1L161.8 227.2L161.6 227.2L161.3 227.3L161.1 227.3L160.9 227.3L160.7 227.4L160.5 227.4L160.3 227.4L160.1 227.4L159.9 227.4L159.7 227.4L159.5 227.4L159.2 227.5L159.0 227.5L158.7 227.5L158.5 227.5L158.2 227.5L158.0 227.5L157.7 227.5L157.5 227.5L157.3 227.5L157.0 227.5L156.8 227.5L156.5 227.5L156.3 227.5L156.0 227.5L155.8 227.5L155.5 227.5L155.3 227.5L155.0 227.5L154.8 227.5L154.7 227.5L154.5 227.5L154.3 227.5L154.1 227.5L153.9 227.4L153.6 227.4L153.4 227.4L153.2 227.3L153.0 227.3L152.8 227.3L152.5 227.2L152.3 227.2L152.1 227.1L151.8 227.1L151.6 227.0L151.4 227.0L151.1 226.9L150.9 226.8L150.6 226.8L150.4 226.7L150.2 226.7L150.0 226.6L149.8 226.6L149.6 226.5L149.4 226.4L149.2 226.3L149.0 226.3L148.7 226.2L148.5 226.1L148.3 226.0L148.1 225.9L147.8 225.8L147.6 225.7L147.4 225.6L147.1 225.4L146.9 225.3L146.6 225.2L146.4 225.1L146.1 225.0L146.0 224.9L145.8 224.8L145.6 224.7L145.4 224.5L145.1 224.4L144.8 224.2L144.6 224.1L144.2 223.9L143.9 223.7L143.5 223.5L143.2 223.4Z" fill="#000" stroke="#000" stroke-width="0.3"/>
<g fill="#000"><circle cx="143.2" cy="227.9" r="1.9"/><circle cx="144.8" cy="226.5" r="2.4"/><circle cx="145.9" cy="228.6" r="2.1"/><circle cx="146.6" cy="228.4" r="2.2"/><circle cx="148.0" cy="225.4" r="2.7"/><circle cx="149.9" cy="229.5" r="2.1"/><circle cx="150.2" cy="229.2" r="2.5"/><circle cx="152.5" cy="229.8" r="2.3"/><circle cx="153.8" cy="228.6" r="2.3"/><circle cx="154.7" cy="229.7" r="2.7"/><circle cx="155.8" cy="229.8" r="2.0"/><circle cx="157.0" cy="231.4" r="2.8"/><circle cx="158.3" cy="230.4" r="2.8"/><circle cx="159.8" cy="229.9" r="2.6"/><circle cx="161.2" cy="231.6" r="1.9"/><circle cx="162.6" cy="228.9" r="2.5"/><circle cx="164.4" cy="228.6" r="2.5"/><circle cx="165.5" cy="226.6" r="2.7"/><circle cx="166.5" cy="230.4" r="2.1"/><circle cx="168.3" cy="229.1" r="2.8"/><circle cx="168.7" cy="228.9" r="2.8"/><circle cx="169.9" cy="228.1" r="1.9"/><circle cx="171.7" cy="226.4" r="2.2"/><circle cx="172.4" cy="226.1" r="1.9"/><circle cx="173.6" cy="224.7" r="2.7"/><circle cx="175.5" cy="223.3" r="2.8"/><circle cx="176.8" cy="222.7" r="2.8"/><circle cx="178.6" cy="222.9" r="2.4"/><circle cx="179.6" cy="220.9" r="2.5"/><circle cx="180.7" cy="219.1" r="2.5"/><circle cx="182.0" cy="217.3" r="2.4"/><circle cx="183.0" cy="216.2" r="2.7"/><circle cx="184.0" cy="217.8" r="2.4"/><circle cx="185.5" cy="214.8" r="2.1"/><circle cx="187.4" cy="212.1" r="2.3"/><circle cx="188.1" cy="210.8" r="1.8"/><circle cx="189.6" cy="208.3" r="2.5"/><circle cx="190.5" cy="208.6" r="2.4"/><circle cx="192.8" cy="207.3" r="2.1"/><circle cx="193.3" cy="205.2" r="2.6"/><circle cx="194.7" cy="203.8" r="2.4"/><circle cx="196.8" cy="201.6" r="2.0"/><circle cx="197.6" cy="201.0" r="1.8"/><circle cx="199.3" cy="196.7" r="1.8"/><circle cx="200.4" cy="196.5" r="1.8"/><circle cx="201.8" cy="193.1" r="1.9"/><circle cx="202.3" cy="194.2" r="2.1"/><circle cx="204.1" cy="189.0" r="2.5"/><circle cx="205.4" cy="188.4" r="1.8"/><circle cx="207.1" cy="186.8" r="2.3"/><circle cx="207.8" cy="183.8" r="2.1"/><circle cx="209.4" cy="181.7" r="2.2"/><circle cx="210.1" cy="182.0" r="1.8"/><circle cx="211.8" cy="180.1" r="1.5"/><circle cx="213.0" cy="177.6" r="2.1"/><circle cx="214.1" cy="177.9" r="1.6"/><circle cx="216.2" cy="176.6" r="1.5"/><circle cx="217.0" cy="172.6" r="2.0"/><circle cx="219.0" cy="169.2" r="1.9"/><circle cx="219.8" cy="166.6" r="1.5"/><circle cx="221.1" cy="165.5" r="1.5"/><circle cx="222.5" cy="160.7" r="2.0"/><circle cx="223.8" cy="158.2" r="1.5"/><circle cx="224.5" cy="159.8" r="1.8"/><circle cx="226.1" cy="154.3" r="1.3"/><circle cx="227.2" cy="154.1" r="1.8"/><circle cx="228.7" cy="149.5" r="1.3"/><circle cx="229.6" cy="144.5" r="1.5"/><circle cx="232.0" cy="136.6" r="1.1"/><circle cx="232.4" cy="137.0" r="1.4"/><circle cx="234.2" cy="128.3" r="1.5"/><circle cx="235.1" cy="124.4" r="1.0"/><circle cx="237.0" cy="114.8" r="1.0"/><circle cx="238.1" cy="111.7" r="1.1"/><circle cx="238.8" cy="110.4" r="1.0"/><circle cx="240.9" cy="98.7" r="0.8"/><circle cx="242.3" cy="87.1" r="1.0"/><circle cx="243.6" cy="80.8" r="0.9"/><circle cx="244.5" cy="77.5" r="1.0"/><circle cx="245.3" cy="75.6" r="0.8"/><circle cx="246.6" cy="70.8" r="1.0"/><circle cx="248.8" cy="66.3" r="1.0"/><circle cx="249.7" cy="63.7" r="1.0"/><circle cx="250.5" cy="58.1" r="0.9"/><circle cx="252.7" cy="65.9" r="1.0"/><circle cx="253.7" cy="72.0" r="1.0"/><circle cx="254.9" cy="79.5" r="0.9"/><circle cx="256.0" cy="88.1" r="0.7"/><circle cx="257.3" cy="100.4" r="1.1"/><circle cx="258.4" cy="107.9" r="1.0"/><circle cx="259.4" cy="115.4" r="0.8"/><circle cx="261.8" cy="130.4" r="1.0"/><circle cx="262.6" cy="140.0" r="0.8"/><circle cx="264.0" cy="151.3" r="0.9"/><circle cx="265.0" cy="162.0" r="1.1"/><circle cx="266.8" cy="180.1" r="1.0"/><circle cx="267.2" cy="183.1" r="1.0"/><circle cx="268.9" cy="192.6" r="1.1"/><circle cx="269.8" cy="195.3" r="1.0"/><circle cx="271.2" cy="203.3" r="1.2"/><circle cx="273.6" cy="212.2" r="1.4"/><circle cx="274.5" cy="217.4" r="1.4"/><circle cx="275.5" cy="223.2" r="1.4"/><circle cx="276.9" cy="224.7" r="1.8"/><circle cx="278.6" cy="227.1" r="1.7"/><circle cx="279.3" cy="227.9" r="2.2"/><circle cx="280.9" cy="232.2" r="2.5"/><circle cx="282.3" cy="234.4" r="1.9"/><circle cx="283.2" cy="234.7" r="2.2"/><circle cx="284.7" cy="238.2" r="2.1"/><circle cx="286.3" cy="238.4" r="1.7"/><circle cx="287.8" cy="242.5" r="1.8"/><circle cx="288.2" cy="242.7" r="2.5"/><circle cx="290.4" cy="244.5" r="2.1"/><circle cx="290.6" cy="242.8" r="2.5"/><circle cx="292.8" cy="245.5" r="1.8"/><circle cx="294.2" cy="245.5" r="2.3"/><circle cx="294.7" cy="245.5" r="2.6"/><circle cx="296.3" cy="246.5" r="2.6"/><circle cx="298.1" cy="246.3" r="1.7"/><circle cx="298.4" cy="246.4" r="2.3"/><circle cx="300.5" cy="250.2" r="2.1"/><circle cx="302.0" cy="250.2" r="2.5"/><circle cx="302.9" cy="251.4" r="1.8"/><circle cx="304.5" cy="253.3" r="2.0"/><circle cx="305.2" cy="250.4" r="2.5"/><circle cx="306.4" cy="252.1" r="2.2"/><circle cx="307.9" cy="253.8" r="2.2"/><circle cx="309.0" cy="254.5" r="2.7"/><circle cx="310.5" cy="254.1" r="2.0"/><circle cx="312.5" cy="256.3" r="1.8"/><circle cx="313.4" cy="255.5" r="2.1"/><circle cx="314.4" cy="254.0" r="1.9"/><circle cx="315.6" cy="254.6" r="1.8"/><circle cx="317.7" cy="257.0" r="2.3"/><circle cx="318.4" cy="256.7" r="2.7"/><circle cx="320.4" cy="254.1" r="2.3"/><circle cx="321.1" cy="258.1" r="2.3"/><circle cx="322.4" cy="257.3" r="2.0"/><circle cx="324.2" cy="258.3" r="2.3"/><circle cx="325.3" cy="256.4" r="2.4"/><circle cx="326.4" cy="256.6" r="2.3"/><circle cx="327.5" cy="255.7" r="2.5"/><circle cx="329.4" cy="260.2" r="2.2"/><circle cx="330.1" cy="257.0" r="1.9"/><circle cx="332.0" cy="259.2" r="2.3"/><circle cx="332.3" cy="256.6" r="2.2"/><circle cx="334.0" cy="257.6" r="1.9"/><circle cx="335.4" cy="255.4" r="2.3"/><circle cx="337.2" cy="256.9" r="2.5"/><circle cx="337.7" cy="258.5" r="1.8"/><circle cx="339.7" cy="255.8" r="2.2"/><circle cx="340.8" cy="258.5" r="2.4"/><circle cx="342.2" cy="257.5" r="2.1"/><circle cx="343.4" cy="255.8" r="1.9"/><circle cx="345.1" cy="256.3" r="2.0"/><circle cx="345.6" cy="256.3" r="2.2"/><circle cx="347.0" cy="256.7" r="2.3"/><circle cx="348.0" cy="256.0" r="2.2"/><circle cx="349.2" cy="255.5" r="1.8"/><circle cx="350.7" cy="255.9" r="2.4"/><circle cx="352.8" cy="254.8" r="2.5"/><circle cx="354.0" cy="254.2" r="1.8"/><circle cx="354.4" cy="255.6" r="1.9"/><circle cx="356.3" cy="256.4" r="1.8"/><circle cx="357.5" cy="253.1" r="2.4"/><circle cx="358.9" cy="254.4" r="2.5"/><circle cx="360.3" cy="253.1" r="1.7"/><circle cx="361.2" cy="252.2" r="2.0"/><circle cx="363.3" cy="253.1" r="1.8"/><circle cx="364.0" cy="251.0" r="2.1"/><circle cx="365.5" cy="252.4" r="2.5"/><circle cx="366.8" cy="248.9" r="1.7"/><circle cx="367.5" cy="249.8" r="1.8"/><circle cx="368.7" cy="248.4" r="2.1"/><circle cx="370.4" cy="246.3" r="2.1"/><circle cx="372.1" cy="245.9" r="2.3"/><circle cx="373.5" cy="243.1" r="2.0"/><circle cx="374.7" cy="242.3" r="1.7"/><circle cx="375.2" cy="240.7" r="1.9"/><circle cx="377.5" cy="235.7" r="2.5"/><circle cx="378.7" cy="235.1" r="2.3"/><circle cx="380.1" cy="234.0" r="1.7"/><circle cx="380.9" cy="234.7" r="2.4"/><circle cx="382.7" cy="231.9" r="1.9"/><circle cx="383.0" cy="233.0" r="2.3"/><circle cx="384.2" cy="231.2" r="1.6"/><circle cx="385.5" cy="234.6" r="2.4"/><circle cx="387.1" cy="233.4" r="1.7"/><circle cx="388.4" cy="233.6" r="2.0"/><circle cx="389.6" cy="236.9" r="2.2"/><circle cx="391.4" cy="240.1" r="2.1"/><circle cx="392.0" cy="237.7" r="1.7"/><circle cx="394.0" cy="240.6" r="1.7"/><circle cx="394.8" cy="241.9" r="1.8"/><circle cx="396.7" cy="243.3" r="1.6"/><circle cx="397.2" cy="245.5" r="1.8"/><circle cx="398.9" cy="245.5" r="1.7"/><circle cx="400.9" cy="247.3" r="2.0"/><circle cx="401.7" cy="249.5" r="1.9"/><circle cx="403.4" cy="249.2" r="2.1"/><circle cx="404.5" cy="251.3" r="1.8"/><circle cx="405.7" cy="250.1" r="1.6"/><circle cx="406.5" cy="250.0" r="1.9"/><circle cx="408.3" cy="249.7" r="2.2"/><circle cx="408.9" cy="254.3" r="1.8"/><circle cx="411.2" cy="252.2" r="1.9"/><circle cx="412.7" cy="253.1" r="2.2"/><circle cx="413.8" cy="253.0" r="1.9"/><circle cx="414.2" cy="253.3" r="2.3"/><circle cx="415.8" cy="253.5" r="2.4"/><circle cx="417.1" cy="256.1" r="1.8"/><circle cx="418.1" cy="252.9" r="2.2"/><circle cx="420.1" cy="252.6" r="1.8"/><circle cx="421.6" cy="253.5" r="1.7"/><circle cx="422.3" cy="253.3" r="1.9"/><circle cx="424.2" cy="256.0" r="2.1"/><circle cx="425.5" cy="256.3" r="2.3"/><circle cx="426.0" cy="254.2" r="1.7"/><circle cx="428.0" cy="253.9" r="2.1"/><circle cx="429.5" cy="255.2" r="1.9"/><circle cx="429.9" cy="257.4" r="1.6"/><circle cx="431.7" cy="252.4" r="2.4"/><circle cx="433.1" cy="256.4" r="2.1"/><circle cx="434.3" cy="254.5" r="1.6"/><circle cx="435.0" cy="257.1" r="2.3"/><circle cx="437.0" cy="254.6" r="1.6"/><circle cx="438.3" cy="255.6" r="1.6"/><circle cx="439.8" cy="254.2" r="1.8"/><circle cx="441.1" cy="254.9" r="2.3"/><circle cx="441.8" cy="257.8" r="1.5"/><circle cx="443.6" cy="257.3" r="2.3"/><circle cx="445.0" cy="256.0" r="2.0"/><circle cx="446.4" cy="255.9" r="1.6"/><circle cx="446.8" cy="254.8" r="2.0"/><circle cx="447.9" cy="257.2" r="1.9"/><circle cx="450.0" cy="258.5" r="2.0"/><circle cx="450.8" cy="258.6" r="2.1"/><circle cx="452.5" cy="258.9" r="2.1"/><circle cx="454.2" cy="257.9" r="2.3"/><circle cx="454.9" cy="259.2" r="1.6"/><circle cx="456.0" cy="259.4" r="2.2"/><circle cx="457.5" cy="261.2" r="1.8"/><circle cx="459.1" cy="262.1" r="2.1"/><circle cx="459.7" cy="259.8" r="2.2"/><circle cx="461.4" cy="259.4" r="2.3"/><circle cx="462.4" cy="260.5" r="1.7"/><circle cx="464.3" cy="260.4" r="1.8"/><circle cx="465.8" cy="260.7" r="2.3"/><circle cx="466.6" cy="261.7" r="2.3"/><circle cx="467.8" cy="260.9" r="1.8"/><circle cx="469.3" cy="263.4" r="2.2"/><circle cx="470.3" cy="262.8" r="1.8"/><circle cx="471.6" cy="263.5" r="1.8"/><circle cx="473.0" cy="263.3" r="2.1"/><circle cx="474.4" cy="262.9" r="1.8"/><circle cx="475.3" cy="262.8" r="1.8"/><circle cx="477.4" cy="264.1" r="1.8"/><circle cx="478.5" cy="263.9" r="1.8"/><circle cx="479.5" cy="264.9" r="1.6"/><circle cx="480.5" cy="264.7" r="1.5"/><circle cx="482.6" cy="263.3" r="2.1"/><circle cx="483.2" cy="265.1" r="1.9"/><circle cx="484.5" cy="263.5" r="2.0"/><circle cx="485.8" cy="264.4" r="2.1"/><circle cx="487.0" cy="264.9" r="1.6"/><circle cx="489.3" cy="262.9" r="1.6"/><circle cx="489.8" cy="265.5" r="1.6"/><circle cx="491.2" cy="265.6" r="1.7"/><circle cx="493.1" cy="265.3" r="2.0"/><circle cx="494.1" cy="265.0" r="1.7"/><circle cx="494.9" cy="265.1" r="1.7"/><circle cx="496.5" cy="264.5" r="1.9"/><circle cx="498.4" cy="265.4" r="1.6"/><circle cx="499.1" cy="265.1" r="1.5"/><circle cx="500.8" cy="266.0" r="2.0"/><circle cx="501.3" cy="264.5" r="2.0"/><circle cx="142.3" cy="225.7" r="2.50"/><circle cx="502.8" cy="266.2" r="1.80"/></g>
<path d="M141.0 226.8L141.3 223.0L141.6 229.0L141.9 221.9L142.2 229.2L142.5 222.4L142.8 227.8L143.1 224.7L143.4 228.7L143.7 225.0L144.0 230.3L144.3 225.5L144.6 230.6L144.9 225.3L145.2 228.7L145.5 223.4L145.8 229.1L146.1 224.2L146.4 230.9L146.7 225.8L147.0 231.5L147.3 225.0L147.6 230.5L147.9 225.1L148.2 232.2L148.5 225.9L148.8 231.0L149.1 223.9L149.4 232.7L149.7 227.0L150.0 230.7L150.3 225.8L150.6 232.3L150.9 227.5L151.2 232.2L151.5 227.5L151.8 233.2L152.1 227.5L152.4 233.0L152.7 228.4L153.0 232.0L153.3 226.1L153.6 231.8L153.9 227.5L154.2 233.7L154.5 228.7L154.8 232.0L155.1 226.7L155.4 231.5L155.7 226.4L156.0 233.4L156.3 228.3L156.6 232.8L156.9 227.3L157.2 233.0L157.5 227.9L157.8 232.2L158.1 228.1L158.4 232.0L158.7 228.2L159.0 233.5L159.3 226.4L159.6 232.1L159.9 226.9L160.2 232.4L160.5 227.9L160.8 232.0L161.1 226.1L161.4 231.9L161.7 227.0L162.0 233.3L162.3 227.5L162.6 232.8L162.9 227.9L163.2 232.5L163.5 226.0L163.8 232.6L164.1 225.5L164.4 232.1L164.7 225.3L165.0 230.9L165.3 226.2L165.6 230.6L165.9 227.2L166.2 230.9L166.5 225.4L166.8 231.6L167.1 227.0L167.4 233.3L167.7 226.2L168.0 230.0L168.3 224.6L168.6 231.2L168.9 224.6L169.2 229.7L169.5 225.0L169.8 230.6L170.1 225.0L170.4 231.8L170.7 223.7L171.0 229.1L171.3 223.1L171.6 228.6L171.9 223.0L172.2 228.8L172.5 223.7L172.8 228.2L173.1 222.6L173.4 227.7L173.7 223.4L174.0 228.4L174.3 220.9L174.6 225.7L174.9 220.5L175.2 226.4L175.5 222.0L175.8 226.6L176.1 220.8L176.4 225.9L176.7 219.4L177.0 225.0L177.3 220.8L177.6 225.2L177.9 218.7L178.2 224.9L178.5 219.2L178.8 224.1L179.1 217.3L179.4 222.6L179.7 217.9L180.0 222.0L180.3 218.3L180.6 221.2L180.9 217.0L181.2 220.3L181.5 215.4L181.8 220.5L182.1 215.3L182.4 219.6L182.7 215.2L183.0 221.5L183.3 214.3L183.6 219.0L183.9 212.3L184.2 219.7L184.5 212.0L184.8 216.9L185.1 212.2L185.4 217.2L185.7 212.5L186.0 217.2L186.3 210.9L186.6 214.8L186.9 209.6L187.2 215.4L187.5 207.8L187.8 215.0L188.1 209.8L188.4 213.4L188.7 207.7L189.0 213.7L189.3 207.2L189.6 212.3L189.9 207.2L190.2 213.0L190.5 206.2L190.8 211.7L191.1 204.9L191.4 210.7L191.7 204.0L192.0 208.5L192.3 203.8L192.6 210.1L192.9 203.2L193.2 207.7L193.5 203.1L193.8 208.2L194.1 203.5L194.4 206.3L194.7 201.8L195.0 208.4L195.3 200.3L195.6 206.3L195.9 199.7L196.2 204.4L196.5 199.7L196.8 204.5L197.1 198.3L197.4 204.4L197.7 199.0L198.0 203.3L198.3 197.4L198.6 201.7L198.9 196.3L199.2 202.0L199.5 196.0L199.8 201.0L200.1 195.8L200.4 198.3L200.7 193.3L201.0 197.5L201.3 192.6L201.6 196.8L201.9 192.4L202.2 196.2L202.5 190.0L202.8 193.8L203.1 190.0L203.4 194.2L203.7 187.5L204.0 193.2L204.3 187.4L204.6 191.1L204.9 186.4L205.2 189.6L205.5 185.3L205.8 188.7L206.1 185.0L206.4 188.1L206.7 184.3L207.0 187.4L207.3 182.1L207.6 187.0L207.9 180.8L208.2 186.8L208.5 179.6L208.8 186.1L209.1 180.6L209.4 185.3L209.7 180.4L210.0 184.1L210.3 178.3L210.6 183.7L210.9 178.8L211.2 183.5L211.5 178.6L211.8 183.0L212.1 178.6L212.4 181.1L212.7 177.6L213.0 180.4L213.3 175.3L213.6 179.2L213.9 175.8L214.2 179.5L214.5 174.2L214.8 179.0L215.1 173.9L215.4 177.0L215.7 172.0L216.0 175.8L216.3 172.7L216.6 175.0L216.9 170.8L217.2 175.5L217.5 169.4L217.8 173.8L218.1 168.8L218.4 174.3L218.7 167.6L219.0 171.2L219.3 167.6L219.6 169.8L219.9 165.0L220.2 170.7L220.5 163.7L220.8 167.0L221.1 162.2L221.4 166.3L221.7 160.9L222.0 165.5L222.3 160.4L222.6 164.7L222.9 157.8L223.2 163.2L223.5 158.8L223.8 161.9L224.1 157.2L224.4 159.6L224.7 156.5L225.0 159.4L225.3 155.3L225.6 159.0L225.9 154.5L226.2 156.4L226.5 150.4L226.8 155.6L227.1 151.0L227.4 153.6L227.7 149.7L228.0 152.0L228.3 146.4L228.6 149.1L228.9 144.2L229.2 148.8L229.5 142.5L229.8 145.3L230.1 140.8L230.4 143.8L230.7 138.4L231.0 141.7L231.3 137.0L231.6 139.5L231.9 133.8L232.2 136.2L232.5 133.1L232.8 135.7L233.1 130.1L233.4 133.0L233.7 127.8L234.0 130.6L234.3 126.4L234.6 128.1L234.9 123.6L235.2 125.6L235.5 122.0L235.8 124.2L236.1 118.8L236.4 122.5L236.7 114.7L237.0 118.6L237.3 114.0L237.6 116.0L237.9 111.4L238.2 112.5L238.5 108.2L238.8 109.5L239.1 106.0L239.4 107.6L239.7 102.0L240.0 104.1L240.3 99.6L240.6 100.6L240.9 95.0L241.2 97.5L241.5 91.5L241.8 92.7L242.1 87.5L242.4 90.2L242.7 84.7L243.0 86.4L243.3 81.0L243.6 83.5L243.9 79.2L244.2 81.0L244.5 76.0L244.8 77.9L245.1 74.4L245.4 75.7L245.7 71.9L246.0 74.8L246.3 71.2L246.6 72.8L246.9 68.8L247.2 70.5L247.5 67.8L247.8 69.7L248.1 66.8L248.4 68.0L248.7 65.0L249.0 66.5L249.3 63.8L249.6 64.1L249.9 61.6L250.2 61.1L250.5 57.6L250.8 58.6L251.1 56.8L251.4 59.8L251.7 59.4L252.0 63.5L252.3 63.1L252.6 66.7L252.9 66.1L253.2 70.3L253.5 69.8L253.8 73.2L254.1 73.6L254.4 77.3L254.7 76.4L255.0 82.2L255.3 80.7L255.6 86.2L255.9 86.2L256.2 90.9L256.5 89.8L256.8 95.8L257.1 94.8L257.4 100.4L257.7 100.4L258.0 105.7L258.3 104.9L258.6 110.2L258.9 110.0L259.2 115.4L259.5 113.4L259.8 119.6L260.1 118.7L260.4 124.1L260.7 122.8L261.0 128.1L261.3 126.4L261.6 133.2L261.9 131.6L262.2 137.6L262.5 136.7L262.8 143.3L263.1 142.3L263.4 150.3L263.7 149.0L264.0 156.3L264.3 155.1L264.6 162.0L264.9 161.7L265.2 168.3L265.5 166.1L265.8 172.2L266.1 172.1L266.4 177.8L266.7 176.0L267.0 181.7L267.3 180.1L267.6 186.4L267.9 184.1L268.2 190.9L268.5 188.5L268.8 193.6L269.1 192.5L269.4 196.3L269.7 194.5L270.0 200.5L270.3 195.7L270.6 203.7L270.9 199.5L271.2 205.1L271.5 202.1L271.8 208.8L272.1 206.1L272.4 211.1L272.7 207.4L273.0 214.3L273.3 209.4L273.6 215.1L273.9 212.3L274.2 217.2L274.5 214.0L274.8 220.6L275.1 217.7L275.4 222.6L275.7 219.6L276.0 223.4L276.3 221.4L276.6 225.7L276.9 221.6L277.2 226.5L277.5 224.5L277.8 228.0L278.1 224.5L278.4 228.7L278.7 226.2L279.0 231.0L279.3 228.2L279.6 231.5L279.9 227.6L280.2 234.0L280.5 228.8L280.8 233.4L281.1 228.8L281.4 235.0L281.7 232.2L282.0 236.1L282.3 231.7L282.6 237.9L282.9 233.7L283.2 237.2L283.5 233.6L283.8 239.9L284.1 235.2L284.4 239.2L284.7 235.9L285.0 240.9L285.3 236.7L285.6 240.9L285.9 237.8L286.2 241.4L286.5 238.8L286.8 241.9L287.1 237.5L287.4 241.9L287.7 237.2L288.0 244.0L288.3 239.6L288.6 244.1L288.9 240.5L289.2 246.1L289.5 239.9L289.8 245.4L290.1 240.8L290.4 246.3L290.7 240.5L291.0 246.0L291.3 241.3L291.6 245.8L291.9 241.1L292.2 246.9L292.5 241.6L292.8 246.6L293.1 241.8L293.4 247.9L293.7 241.8L294.0 247.0L294.3 244.2L294.6 248.7L294.9 244.8L295.2 248.3L295.5 244.9L295.8 249.7L296.1 245.5L296.4 248.9L296.7 244.1L297.0 250.0L297.3 244.8L297.6 251.0L297.9 246.6L298.2 250.6L298.5 245.3L298.8 251.1L299.1 245.7L299.4 250.0L299.7 247.4L300.0 251.9L300.3 246.6L300.6 251.2L300.9 248.4L301.2 252.2L301.5 248.7L301.8 253.1L302.1 248.6L302.4 253.7L302.7 249.6L303.0 254.8L303.3 250.0L303.6 254.5L303.9 249.4L304.2 253.7L304.5 248.8L304.8 255.0L305.1 250.5L305.4 255.7L305.7 250.7L306.0 256.1L306.3 251.1L306.6 256.4L306.9 251.9L307.2 256.1L307.5 251.6L307.8 255.7L308.1 251.1L308.4 255.1L308.7 252.2L309.0 255.4L309.3 251.3L309.6 255.9L309.9 252.0L310.2 256.3L310.5 252.8L310.8 257.8L311.1 252.4L311.4 257.4L311.7 252.1L312.0 257.9L312.3 253.3L312.6 256.4L312.9 251.6L313.2 256.8L313.5 254.1L313.8 258.6L314.1 251.5L314.4 257.6L314.7 254.1L315.0 258.5L315.3 252.0L315.6 257.3L315.9 252.4L316.2 259.1L316.5 252.6L316.8 258.9L317.1 253.6L317.4 257.8L317.7 253.4L318.0 257.6L318.3 253.6L318.6 257.5L318.9 255.0L319.2 259.0L319.5 254.3L319.8 259.0L320.1 253.4L320.4 259.4L320.7 253.9L321.0 259.5L321.3 253.8L321.6 259.7L321.9 253.4L322.2 257.8L322.5 254.8L322.8 258.6L323.1 254.9L323.4 258.2L323.7 253.6L324.0 257.9L324.3 255.2L324.6 259.6L324.9 255.1L325.2 258.6L325.5 253.6L325.8 259.7L326.1 254.7L326.4 258.4L326.7 255.2L327.0 260.3L327.3 254.1L327.6 258.3L327.9 254.3L328.2 259.1L328.5 254.3L328.8 258.9L329.1 255.7L329.4 258.4L329.7 255.4L330.0 260.2L330.3 254.1L330.6 259.9L330.9 254.5L331.2 258.9L331.5 255.4L331.8 260.4L332.1 254.0L332.4 259.5L332.7 254.5L333.0 260.6L333.3 254.0L333.6 259.2L333.9 254.8L334.2 259.4L334.5 255.2L334.8 259.6L335.1 255.6L335.4 258.6L335.7 254.6L336.0 260.1L336.3 254.4L336.6 258.9L336.9 255.7L337.2 259.8L337.5 254.2L337.8 259.5L338.1 255.7L338.4 259.8L338.7 254.1L339.0 260.3L339.3 254.2L339.6 259.3L339.9 255.5L340.2 260.3L340.5 254.3L340.8 260.2L341.1 255.2L341.4 258.9L341.7 255.4L342.0 260.2L342.3 253.9L342.6 259.0L342.9 254.0L343.2 259.0L343.5 254.9L343.8 259.4L344.1 255.3L344.4 258.7L344.7 255.2L345.0 258.6L345.3 254.6L345.6 258.2L345.9 254.0L346.2 258.3L346.5 254.7L346.8 259.3L347.1 255.3L347.4 258.7L347.7 254.3L348.0 259.0L348.3 253.5L348.6 259.4L348.9 255.1L349.2 259.5L349.5 254.1L349.8 259.1L350.1 254.9L350.4 258.5L350.7 253.6L351.0 259.1L351.3 253.3L351.6 257.8L351.9 253.2L352.2 259.8L352.5 253.4L352.8 259.0L353.1 253.9L353.4 259.0L353.7 252.8L354.0 258.7L354.3 253.8L354.6 258.0L354.9 254.1L355.2 258.4L355.5 252.4L355.8 256.9L356.1 252.6L356.4 257.9L356.7 254.0L357.0 258.2L357.3 252.8L357.6 256.6L357.9 253.6L358.2 257.5L358.5 252.7L358.8 256.7L359.1 252.8L359.4 256.7L359.7 252.1L360.0 256.9L360.3 251.3L360.6 256.4L360.9 251.9L361.2 254.7L361.5 250.2L361.8 256.2L362.1 250.3L362.4 255.8L362.7 249.8L363.0 254.7L363.3 250.0L363.6 253.7L363.9 249.4L364.2 253.0L364.5 249.2L364.8 253.3L365.1 249.6L365.4 252.6L365.7 248.7L366.0 252.8L366.3 247.2L366.6 252.4L366.9 247.2L367.2 252.0L367.5 247.7L367.8 251.2L368.1 246.1L368.4 252.0L368.7 247.1L369.0 249.6L369.3 245.0L369.6 250.9L369.9 245.3L370.2 250.3L370.5 244.7L370.8 249.9L371.1 244.8L371.4 248.2L371.7 241.9L372.0 246.9L372.3 242.3L372.6 246.2L372.9 240.2L373.2 247.8L373.5 241.2L373.8 246.0L374.1 239.9L374.4 244.7L374.7 240.3L375.0 242.5L375.3 238.1L375.6 243.3L375.9 237.3L376.2 242.3L376.5 237.5L376.8 241.2L377.1 234.7L377.4 239.6L377.7 234.7L378.0 238.8L378.3 234.1L378.6 237.9L378.9 232.4L379.2 236.9L379.5 232.7L379.8 235.2L380.1 232.4L380.4 236.6L380.7 232.1L381.0 234.8L381.3 231.8L381.6 235.5L381.9 229.6L382.2 236.0L382.5 230.2L382.8 236.1L383.1 230.1L383.4 235.1L383.7 231.7L384.0 236.2L384.3 231.7L384.6 235.8L384.9 231.8L385.2 236.4L385.5 232.2L385.8 235.9L386.1 232.5L386.4 237.1L386.7 232.0L387.0 237.0L387.3 233.1L387.6 236.5L387.9 232.5L388.2 238.3L388.5 233.2L388.8 239.3L389.1 234.2L389.4 238.2L389.7 234.7L390.0 239.0L390.3 235.4L390.6 239.9L390.9 234.7L391.2 242.8L391.5 236.2L391.8 241.2L392.1 236.9L392.4 242.9L392.7 237.7L393.0 243.0L393.3 238.2L393.6 243.6L393.9 240.5L394.2 243.8L394.5 240.0L394.8 244.7L395.1 241.1L395.4 245.3L395.7 242.2L396.0 245.2L396.3 243.1L396.6 247.0L396.9 243.0L397.2 247.1L397.5 242.3L397.8 247.9L398.1 243.1L398.4 248.7L398.7 243.3L399.0 247.8L399.3 245.0L399.6 250.1L399.9 245.3L400.2 250.6L400.5 246.3L400.8 249.3L401.1 245.4L401.4 250.5L401.7 246.7L402.0 252.0L402.3 247.8L402.6 252.6L402.9 247.9L403.2 251.6L403.5 248.6L403.8 252.5L404.1 248.6L404.4 253.6L404.7 249.7L405.0 252.2L405.3 249.7L405.6 253.5L405.9 248.7L406.2 253.4L406.5 249.2L406.8 253.9L407.1 250.5L407.4 253.3L407.7 248.7L408.0 253.6L408.3 249.0L408.6 254.0L408.9 250.5L409.2 253.2L409.5 250.7L409.8 254.0L410.1 249.2L410.4 254.3L410.7 249.1L411.0 254.5L411.3 251.4L411.6 254.2L411.9 249.7L412.2 253.9L412.5 250.3L412.8 254.9L413.1 250.5L413.4 254.7L413.7 251.2L414.0 255.2L414.3 250.3L414.6 254.9L414.9 252.1L415.2 254.5L415.5 250.6L415.8 255.2L416.1 252.3L416.4 255.9L416.7 249.8L417.0 256.0L417.3 251.3L417.6 255.8L417.9 252.5L418.2 255.2L418.5 251.2L418.8 256.2L419.1 253.0L419.4 257.2L419.7 251.5L420.0 257.1L420.3 253.0L420.6 256.0L420.9 252.6L421.2 256.9L421.5 250.8L421.8 257.7L422.1 252.0L422.4 256.6L422.7 252.7L423.0 256.3L423.3 253.0L423.6 256.2L423.9 253.8L424.2 256.4L424.5 253.6L424.8 256.9L425.1 252.9L425.4 256.5L425.7 254.1L426.0 257.7L426.3 253.1L426.6 257.8L426.9 251.9L427.2 257.8L427.5 253.4L427.8 258.0L428.1 253.2L428.4 258.2L428.7 252.0L429.0 257.0L429.3 253.6L429.6 257.2L429.9 253.8L430.2 259.5L430.5 253.4L430.8 257.6L431.1 254.2L431.4 258.3L431.7 253.5L432.0 257.6L432.3 251.9L432.6 258.1L432.9 252.9L433.2 258.1L433.5 253.1L433.8 257.9L434.1 253.4L434.4 258.5L434.7 254.6L435.0 257.8L435.3 253.7L435.6 257.0L435.9 252.2L436.2 258.3L436.5 253.1L436.8 257.6L437.1 254.0L437.4 258.7L437.7 254.1L438.0 258.5L438.3 254.1L438.6 257.6L438.9 254.4L439.2 257.4L439.5 254.1L439.8 257.3L440.1 253.4L440.4 258.9L440.7 254.8L441.0 257.2L441.3 255.1L441.6 258.9L441.9 255.0L442.2 258.4L442.5 254.6L442.8 257.6L443.1 254.8L443.4 258.6L443.7 255.3L444.0 259.0L444.3 254.3L444.6 257.9L444.9 255.1L445.2 258.8L445.5 254.4L445.8 258.3L446.1 255.2L446.4 258.8L446.7 254.4L447.0 259.2L447.3 254.8L447.6 259.7L447.9 255.6L448.2 259.7L448.5 255.7L448.8 260.0L449.1 255.9L449.4 259.7L449.7 256.8L450.0 261.1L450.3 256.8L450.6 261.2L450.9 256.0L451.2 260.8L451.5 257.6L451.8 261.3L452.1 256.7L452.4 260.5L452.7 256.4L453.0 260.9L453.3 258.0L453.6 260.2L453.9 257.7L454.2 261.3L454.5 256.7L454.8 260.4L455.1 258.3L455.4 261.5L455.7 257.6L456.0 261.2L456.3 257.0L456.6 262.2L456.9 256.8L457.2 262.0L457.5 258.6L457.8 260.9L458.1 257.6L458.4 262.5L458.7 258.6L459.0 261.7L459.3 258.2L459.6 261.7L459.9 258.5L460.2 261.5L460.5 258.7L460.8 261.3L461.1 258.2L461.4 262.1L461.7 258.1L462.0 262.6L462.3 257.8L462.6 262.2L462.9 258.1L463.2 262.5L463.5 258.7L463.8 263.4L464.1 259.3L464.4 262.9L464.7 259.1L465.0 262.5L465.3 258.4L465.6 262.6L465.9 260.2L466.2 263.8L466.5 259.1L466.8 264.6L467.1 260.5L467.4 263.3L467.7 260.2L468.0 264.0L468.3 260.7L468.6 264.8L468.9 260.3L469.2 264.6L469.5 259.5L469.8 264.8L470.1 259.6L470.4 265.6L470.7 260.3L471.0 265.8L471.3 260.6L471.6 264.4L471.9 261.5L472.2 265.7L472.5 261.9L472.8 265.5L473.1 262.5L473.4 264.9L473.7 262.0L474.0 264.8L474.3 261.0L474.6 265.2L474.9 261.4L475.2 265.5L475.5 262.4L475.8 266.5L476.1 262.2L476.4 265.2L476.7 262.9L477.0 266.3L477.3 263.0L477.6 265.8L477.9 261.3L478.2 266.3L478.5 263.1L478.8 266.5L479.1 262.5L479.4 265.7L479.7 263.2L480.0 266.2L480.3 262.2L480.6 265.8L480.9 262.1L481.2 266.1L481.5 262.7L481.8 267.2L482.1 263.8L482.4 267.4L482.7 261.7L483.0 266.3L483.3 262.4L483.6 266.5L483.9 261.6L484.2 266.1L484.5 263.3L484.8 266.9L485.1 262.6L485.4 267.5L485.7 263.3L486.0 267.3L486.3 263.5L486.6 267.9L486.9 262.6L487.2 267.4L487.5 263.6L487.8 266.9L488.1 263.0L488.4 266.4L488.7 263.0L489.0 267.4L489.3 263.7L489.6 267.5L489.9 263.8L490.2 266.6L490.5 263.8L490.8 266.5L491.1 264.4L491.4 267.2L491.7 263.1L492.0 267.8L492.3 263.7L492.6 268.1L492.9 262.1L493.2 268.0L493.5 263.4L493.8 267.5L494.1 263.6L494.4 267.5L494.7 263.8L495.0 267.1L495.3 264.2L495.6 266.6L495.9 264.0L496.2 267.9L496.5 263.8L496.8 266.8L497.1 263.3L497.4 266.6L497.7 263.2L498.0 267.7L498.3 263.8L498.6 267.3L498.9 263.4L499.2 266.7L499.5 264.8L499.8 268.6L500.1 264.4L500.4 267.4L500.7 264.0L501.0 266.9L501.3 263.4L501.6 268.1L501.9 265.0L502.2 268.3L502.5 264.4L502.8 268.3L503.1 263.1L503.4 269.0" fill="none" stroke="#000" stroke-width="1.1"/>
<line x1="229.5" y1="174.6" x2="199" y2="152.3" stroke="#168a90" stroke-width="1.2"/>
<polygon points="194,149 202.3,150.3 197.6,155.3" fill="#168a90"/>
<path d="M136.5 260.9L137.0 260.8L137.5 260.8L138.0 260.8L138.5 260.8L139.0 260.7L139.5 260.7L140.0 260.7L140.5 260.7L141.0 260.6L141.5 260.6L142.0 260.6L142.5 260.5L143.0 260.5L143.5 260.5L144.0 260.4L144.5 260.4L145.0 260.3L145.5 260.3L146.0 260.3L146.5 260.2L147.0 260.2L147.5 260.1L148.0 260.0L148.5 260.0L149.0 259.9L149.5 259.9L150.0 259.8L150.5 259.7L151.0 259.7L151.5 259.6L152.0 259.5L152.5 259.4L153.0 259.3L153.5 259.2L154.0 259.1L154.5 259.1L155.0 259.0L155.5 258.8L156.0 258.7L156.5 258.6L157.0 258.5L157.5 258.4L158.0 258.3L158.5 258.1L159.0 258.0L159.5 257.8L160.0 257.7L160.5 257.5L161.0 257.4L161.5 257.2L162.0 257.0L162.5 256.9L163.0 256.7L163.5 256.5L164.0 256.3L164.5 256.1L165.0 255.9L165.5 255.7L166.0 255.4L166.5 255.2L167.0 255.0L167.5 254.7L168.0 254.5L168.5 254.2L169.0 253.9L169.5 253.6L170.0 253.3L170.5 253.0L171.0 252.7L171.5 252.4L172.0 252.1L172.5 251.7L173.0 251.4L173.5 251.0L174.0 250.7L174.5 250.3L175.0 249.9L175.5 249.5L176.0 249.1L176.5 248.7L177.0 248.3L177.5 247.8L178.0 247.4L178.5 246.9L179.0 246.4L179.5 245.9L180.0 245.4L180.5 244.9L181.0 244.4L181.5 243.9L182.0 243.3L182.5 242.8L183.0 242.2L183.5 241.6L184.0 241.0L184.5 240.4L185.0 239.8L185.5 239.2L186.0 238.5L186.5 237.9L187.0 237.2L187.5 236.5L188.0 235.9L188.5 235.2L189.0 234.4L189.5 233.7L190.0 233.0L190.5 232.2L191.0 231.5L191.5 230.7L192.0 229.9L192.5 229.2L193.0 228.4L193.5 227.5L194.0 226.7L194.5 225.9L195.0 225.1L195.5 224.2L196.0 223.4L196.5 222.5L197.0 221.6L197.5 220.8L198.0 219.9L198.5 219.0L199.0 218.1L199.5 217.2L200.0 216.3L200.5 215.4L201.0 214.4L201.5 213.5L202.0 212.6L202.5 211.7L203.0 210.7L203.5 209.8L204.0 208.9L204.5 207.9L205.0 207.0L205.5 206.1L206.0 205.1L206.5 204.2L207.0 203.3L207.5 202.3L208.0 201.4L208.5 200.5L209.0 199.6L209.5 198.7L210.0 197.8L210.5 196.9L211.0 196.0L211.5 195.1L212.0 194.3L212.5 193.4L213.0 192.6L213.5 191.8L214.0 190.9L214.5 190.1L215.0 189.4L215.5 188.6L216.0 187.8L216.5 187.1L217.0 186.4L217.5 185.7L218.0 185.0L218.5 184.3L219.0 183.7L219.5 183.0L220.0 182.4L220.5 181.9L221.0 181.3L221.5 180.8L222.0 180.3L222.5 179.8L223.0 179.3L223.5 178.9L224.0 178.5L224.5 178.1L225.0 177.8L225.5 177.5L226.0 177.2L226.5 177.0L227.0 176.8L227.5 176.6L228.0 176.4L228.5 176.3L229.0 176.3L229.5 176.2L230.0 176.2L230.5 176.3L231.0 176.3L231.5 176.3L232.0 176.4L232.5 176.5L233.0 176.6L233.5 176.7L234.0 176.9L234.5 177.1L235.0 177.2L235.5 177.5L236.0 177.7L236.5 178.0L237.0 178.2L237.5 178.5L238.0 178.9L238.5 179.2L239.0 179.6L239.5 180.0L240.0 180.4L240.5 180.9L241.0 181.3L241.5 181.8L242.0 182.3L242.5 182.9L243.0 183.4L243.5 184.0L244.0 184.6L244.5 185.2L245.0 185.8L245.5 186.5L246.0 187.2L246.5 187.9L247.0 188.6L247.5 189.3L248.0 190.1L248.5 190.8L249.0 191.6L249.5 192.4L250.0 193.2L250.5 194.0L251.0 194.9L251.5 195.7L252.0 196.6L252.5 197.5L253.0 198.4L253.5 199.3L254.0 200.2L254.5 201.1L255.0 202.0L255.5 203.0L256.0 203.9L256.5 204.9L257.0 205.8L257.5 206.8L258.0 207.7L258.5 208.7L259.0 209.7L259.5 210.6L260.0 211.6L260.5 212.6L261.0 213.6L261.5 214.5L262.0 215.5L262.5 216.5L263.0 217.4L263.5 218.4L264.0 219.4L264.5 220.3L265.0 221.2L265.5 222.2L266.0 223.1L266.5 224.0L267.0 225.0L267.5 225.9L268.0 226.8L268.5 227.7L269.0 228.6L269.5 229.4L270.0 230.3L270.5 231.1L271.0 232.0L271.5 232.8L272.0 233.6L272.5 234.4L273.0 235.2L273.5 236.0L274.0 236.8L274.5 237.5L275.0 238.3L275.5 239.0L276.0 239.7L276.5 240.4L277.0 241.1L277.5 241.7L278.0 242.4L278.5 243.0L279.0 243.7L279.5 244.3L280.0 244.9L280.5 245.5L281.0 246.0L281.5 246.6L282.0 247.1L282.5 247.7L283.0 248.2L283.5 248.7L284.0 249.2L284.5 249.6L285.0 250.1L285.5 250.5L286.0 251.0L286.5 251.4L287.0 251.8L287.5 252.2L288.0 252.6L288.5 252.9L289.0 253.3L289.5 253.6L290.0 254.0L290.5 254.3L291.0 254.6L291.5 254.9L292.0 255.2L292.5 255.5L293.0 255.7L293.5 256.0L294.0 256.2L294.5 256.5L295.0 256.7L295.5 256.9L296.0 257.1L296.5 257.3L297.0 257.5L297.5 257.7L298.0 257.9L298.5 258.1L299.0 258.2L299.5 258.4L300.0 258.5L300.5 258.7L301.0 258.8L301.5 258.9L302.0 259.1L302.5 259.2L303.0 259.3L303.5 259.4L304.0 259.5L304.5 259.6L305.0 259.7L305.5 259.8L306.0 259.9L306.5 259.9L307.0 260.0L307.5 260.1L308.0 260.2L308.5 260.2L309.0 260.3L309.5 260.3L310.0 260.4L310.5 260.4L311.0 260.5L311.5 260.5L312.0 260.6L312.5 260.6L313.0 260.6L313.5 260.7L314.0 260.7L314.5 260.8L315.0 260.8L315.5 260.8L316.0 260.8L316.5 260.9L317.0 260.9L317.5 260.9L318.0 260.9L318.5 260.9L319.0 261.0L319.5 261.0L320.0 261.0L320.5 261.0L321.0 261.0L321.5 261.0L322.0 261.0L322.5 261.1L323.0 261.1L323.5 261.1L324.0 261.1L324.5 261.1L325.0 261.1L325.5 261.1L326.0 261.1L326.5 261.1L327.0 261.1L327.5 261.1L328.0 261.1L328.5 261.1L329.0 261.1L329.5 261.2L330.0 261.2L330.5 261.2L331.0 261.2L331.5 261.2L332.0 261.2L332.5 261.2L333.0 261.2L333.5 261.2L334.0 261.2L334.5 261.2L335.0 261.2L335.5 261.2L336.0 261.2L336.5 261.2L337.0 261.2L337.5 261.2L338.0 261.2L338.5 261.2L339.0 261.2L339.5 261.2L340.0 261.2L340.5 261.2L341.0 261.2L341.5 261.2L342.0 261.2L342.5 261.2L343.0 261.2L343.5 261.2L344.0 261.2L344.5 261.2L345.0 261.2L345.5 261.2L346.0 261.2L346.5 261.2L347.0 261.2L347.5 261.2L348.0 261.2L348.5 261.2L349.0 261.2L349.5 261.2L350.0 261.2L350.5 261.2L351.0 261.2L351.5 261.2L352.0 261.2L352.5 261.2L353.0 261.2L353.5 261.2L354.0 261.2L354.5 261.2L355.0 261.2L355.5 261.2L356.0 261.2L356.5 261.2L357.0 261.2L357.5 261.2L358.0 261.2L358.5 261.2L359.0 261.2L359.5 261.2L360.0 261.2L360.5 261.2L361.0 261.2L361.5 261.2L362.0 261.2L362.5 261.2L363.0 261.2L363.5 261.2L364.0 261.2L364.5 261.2L365.0 261.2L365.5 261.2L366.0 261.2L366.5 261.2L367.0 261.2L367.5 261.2L368.0 261.2L368.5 261.2L369.0 261.2L369.5 261.2L370.0 261.2L370.5 261.2L371.0 261.2L371.5 261.2L372.0 261.2L372.5 261.2L373.0 261.2L373.5 261.2L374.0 261.2L374.5 261.2L375.0 261.2L375.5 261.2L376.0 261.2L376.5 261.2L377.0 261.2L377.5 261.2L378.0 261.2L378.5 261.2L379.0 261.2L379.5 261.2L380.0 261.2L380.5 261.2L381.0 261.2L381.5 261.2L382.0 261.2L382.5 261.2L383.0 261.2L383.5 261.2L384.0 261.2L384.5 261.2L385.0 261.2L385.5 261.2L386.0 261.2L386.5 261.2L387.0 261.2L387.5 261.2L388.0 261.2L388.5 261.2L389.0 261.2L389.5 261.2L390.0 261.2L390.5 261.2L391.0 261.2L391.5 261.2L392.0 261.2L392.5 261.2L393.0 261.2L393.5 261.2L394.0 261.2L394.5 261.2L395.0 261.2L395.5 261.2L396.0 261.2L396.5 261.2L397.0 261.2L397.5 261.2L398.0 261.2L398.5 261.2L399.0 261.2L399.5 261.2L400.0 261.2L400.5 261.2L401.0 261.2L401.5 261.2L402.0 261.2L402.5 261.2L403.0 261.2L403.5 261.2L404.0 261.2L404.5 261.2L405.0 261.2L405.5 261.2L406.0 261.2L406.5 261.2L407.0 261.2L407.5 261.2L408.0 261.2L408.5 261.2L409.0 261.2L409.5 261.2L410.0 261.2L410.5 261.2L411.0 261.2L411.5 261.2L412.0 261.2L412.5 261.2L413.0 261.2L413.5 261.2L414.0 261.2L414.5 261.2L415.0 261.2L415.5 261.2L416.0 261.2L416.5 261.2L417.0 261.2L417.5 261.2L418.0 261.2L418.5 261.2L419.0 261.2L419.5 261.2L420.0 261.2L420.5 261.2L421.0 261.2L421.5 261.2L422.0 261.2L422.5 261.2L423.0 261.2L423.5 261.2L424.0 261.2L424.5 261.2L425.0 261.2L425.5 261.2L426.0 261.2L426.5 261.2L427.0 261.2L427.5 261.2L428.0 261.2L428.5 261.2L429.0 261.2L429.5 261.2L430.0 261.2L430.5 261.2L431.0 261.2L431.5 261.2L432.0 261.2L432.5 261.2L433.0 261.2L433.5 261.2L434.0 261.2L434.5 261.2L435.0 261.2L435.5 261.2L436.0 261.2L436.5 261.2L437.0 261.2L437.5 261.2L438.0 261.2L438.5 261.2L439.0 261.2L439.5 261.2L440.0 261.2L440.5 261.2L441.0 261.2L441.5 261.2L442.0 261.2L442.5 261.2L443.0 261.2L443.5 261.2L444.0 261.2L444.5 261.2L445.0 261.2L445.5 261.2L446.0 261.2L446.5 261.2L447.0 261.2L447.5 261.2L448.0 261.2L448.5 261.2L449.0 261.2L449.5 261.2L450.0 261.2L450.5 261.2L451.0 261.2L451.5 261.2L452.0 261.2L452.5 261.2L453.0 261.2L453.5 261.2L454.0 261.2L454.5 261.2L455.0 261.2L455.5 261.2L456.0 261.2L456.5 261.2L457.0 261.2L457.5 261.2L458.0 261.2L458.5 261.2L459.0 261.2L459.5 261.2L460.0 261.2L460.5 261.2L461.0 261.2L461.5 261.2L462.0 261.2L462.5 261.2L463.0 261.2L463.5 261.2L464.0 261.2L464.5 261.2L465.0 261.2L465.5 261.2L466.0 261.2L466.5 261.2L467.0 261.2L467.5 261.2L468.0 261.2L468.5 261.2L469.0 261.2L469.5 261.2L470.0 261.2L470.5 261.2L471.0 261.2L471.5 261.2L472.0 261.2L472.5 261.2L473.0 261.2L473.5 261.2L474.0 261.2L474.5 261.2L475.0 261.2L475.5 261.2L476.0 261.2L476.5 261.2L477.0 261.2L477.5 261.2L478.0 261.2L478.5 261.2L479.0 261.2L479.5 261.2L480.0 261.2L480.5 261.2L481.0 261.2L481.5 261.2L482.0 261.2L482.5 261.2L483.0 261.2L483.5 261.2L484.0 261.2L484.5 261.2L485.0 261.2L485.5 261.2L486.0 261.2L486.5 261.2L487.0 261.2L487.5 261.2L488.0 261.2L488.5 261.2L489.0 261.2L489.5 261.2L490.0 261.2L490.5 261.2L491.0 261.2L491.5 261.2L492.0 261.2L492.5 261.2L493.0 261.2L493.5 261.2L494.0 261.2L494.5 261.2L495.0 261.2L495.5 261.2L496.0 261.2L496.5 261.2L497.0 261.2L497.5 261.2L498.0 261.2L498.5 261.2L499.0 261.2L499.5 261.2L500.0 261.2L500.5 261.2L501.0 261.2L501.5 261.2L502.0 261.2L502.5 261.2L503.0 261.2L503.5 261.2L504.0 261.2L504.5 261.2L505.0 261.2L505.5 261.2L506.0 261.2L506.5 261.2L507.0 261.2L507.5 261.2L508.0 261.2L508.5 261.2L509.0 261.2L509.5 261.2L510.0 261.2L510.5 261.2L511.0 261.2L511.5 261.2L512.0 261.2L512.5 261.2L513.0 261.2L513.5 261.2L514.0 261.2" fill="none" stroke="#168a90" stroke-width="2"/>
<path d="M136.5 261.2L137.0 261.2L137.5 261.2L138.0 261.2L138.5 261.2L139.0 261.2L139.5 261.2L140.0 261.2L140.5 261.2L141.0 261.2L141.5 261.2L142.0 261.2L142.5 261.2L143.0 261.2L143.5 261.2L144.0 261.2L144.5 261.2L145.0 261.2L145.5 261.2L146.0 261.2L146.5 261.2L147.0 261.2L147.5 261.2L148.0 261.2L148.5 261.2L149.0 261.2L149.5 261.2L150.0 261.2L150.5 261.2L151.0 261.2L151.5 261.2L152.0 261.2L152.5 261.2L153.0 261.2L153.5 261.2L154.0 261.2L154.5 261.2L155.0 261.2L155.5 261.2L156.0 261.2L156.5 261.2L157.0 261.2L157.5 261.2L158.0 261.2L158.5 261.2L159.0 261.2L159.5 261.2L160.0 261.2L160.5 261.2L161.0 261.2L161.5 261.2L162.0 261.2L162.5 261.2L163.0 261.2L163.5 261.2L164.0 261.2L164.5 261.2L165.0 261.2L165.5 261.2L166.0 261.2L166.5 261.2L167.0 261.2L167.5 261.2L168.0 261.2L168.5 261.2L169.0 261.2L169.5 261.2L170.0 261.2L170.5 261.2L171.0 261.2L171.5 261.2L172.0 261.2L172.5 261.2L173.0 261.2L173.5 261.2L174.0 261.2L174.5 261.2L175.0 261.2L175.5 261.2L176.0 261.2L176.5 261.2L177.0 261.2L177.5 261.2L178.0 261.2L178.5 261.2L179.0 261.2L179.5 261.2L180.0 261.2L180.5 261.2L181.0 261.2L181.5 261.2L182.0 261.2L182.5 261.2L183.0 261.2L183.5 261.2L184.0 261.2L184.5 261.2L185.0 261.2L185.5 261.2L186.0 261.2L186.5 261.2L187.0 261.2L187.5 261.2L188.0 261.2L188.5 261.2L189.0 261.2L189.5 261.2L190.0 261.2L190.5 261.2L191.0 261.2L191.5 261.2L192.0 261.2L192.5 261.2L193.0 261.2L193.5 261.2L194.0 261.2L194.5 261.2L195.0 261.2L195.5 261.2L196.0 261.2L196.5 261.2L197.0 261.2L197.5 261.2L198.0 261.2L198.5 261.2L199.0 261.2L199.5 261.2L200.0 261.2L200.5 261.2L201.0 261.2L201.5 261.2L202.0 261.2L202.5 261.2L203.0 261.2L203.5 261.2L204.0 261.2L204.5 261.2L205.0 261.2L205.5 261.2L206.0 261.2L206.5 261.2L207.0 261.2L207.5 261.2L208.0 261.2L208.5 261.1L209.0 261.1L209.5 261.1L210.0 261.1L210.5 261.1L211.0 261.1L211.5 261.1L212.0 261.0L212.5 261.0L213.0 261.0L213.5 260.9L214.0 260.9L214.5 260.8L215.0 260.7L215.5 260.7L216.0 260.6L216.5 260.5L217.0 260.3L217.5 260.2L218.0 260.1L218.5 259.9L219.0 259.7L219.5 259.5L220.0 259.2L220.5 258.9L221.0 258.6L221.5 258.3L222.0 257.9L222.5 257.5L223.0 257.0L223.5 256.4L224.0 255.8L224.5 255.2L225.0 254.5L225.5 253.7L226.0 252.8L226.5 251.8L227.0 250.8L227.5 249.7L228.0 248.5L228.5 247.1L229.0 245.7L229.5 244.2L230.0 242.6L230.5 240.8L231.0 238.9L231.5 237.0L232.0 234.8L232.5 232.6L233.0 230.3L233.5 227.8L234.0 225.2L234.5 222.5L235.0 219.6L235.5 216.7L236.0 213.7L236.5 210.5L237.0 207.3L237.5 203.9L238.0 200.6L238.5 197.1L239.0 193.6L239.5 190.0L240.0 186.4L240.5 182.8L241.0 179.3L241.5 175.7L242.0 172.1L242.5 168.7L243.0 165.3L243.5 161.9L244.0 158.7L244.5 155.6L245.0 152.6L245.5 149.8L246.0 147.2L246.5 144.8L247.0 142.5L247.5 140.5L248.0 138.7L248.5 137.1L249.0 135.8L249.5 134.8L250.0 134.0L250.5 133.5L251.0 133.2L251.5 133.2L252.0 133.6L252.5 134.1L253.0 135.0L253.5 136.1L254.0 137.4L254.5 139.0L255.0 140.9L255.5 143.0L256.0 145.2L256.5 147.7L257.0 150.4L257.5 153.2L258.0 156.2L258.5 159.3L259.0 162.6L259.5 165.9L260.0 169.4L260.5 172.9L261.0 176.4L261.5 180.0L262.0 183.6L262.5 187.2L263.0 190.7L263.5 194.3L264.0 197.8L264.5 201.2L265.0 204.6L265.5 207.9L266.0 211.1L266.5 214.3L267.0 217.3L267.5 220.2L268.0 223.0L268.5 225.7L269.0 228.3L269.5 230.7L270.0 233.1L270.5 235.3L271.0 237.4L271.5 239.3L272.0 241.2L272.5 242.9L273.0 244.5L273.5 246.0L274.0 247.4L274.5 248.7L275.0 249.9L275.5 251.0L276.0 252.0L276.5 253.0L277.0 253.8L277.5 254.6L278.0 255.3L278.5 256.0L279.0 256.5L279.5 257.1L280.0 257.5L280.5 258.0L281.0 258.4L281.5 258.7L282.0 259.0L282.5 259.3L283.0 259.5L283.5 259.7L284.0 259.9L284.5 260.1L285.0 260.2L285.5 260.4L286.0 260.5L286.5 260.6L287.0 260.7L287.5 260.7L288.0 260.8L288.5 260.9L289.0 260.9L289.5 261.0L290.0 261.0L290.5 261.0L291.0 261.1L291.5 261.1L292.0 261.1L292.5 261.1L293.0 261.1L293.5 261.1L294.0 261.2L294.5 261.2L295.0 261.2L295.5 261.2L296.0 261.2L296.5 261.2L297.0 261.2L297.5 261.2L298.0 261.2L298.5 261.2L299.0 261.2L299.5 261.2L300.0 261.2L300.5 261.2L301.0 261.2L301.5 261.2L302.0 261.2L302.5 261.2L303.0 261.2L303.5 261.2L304.0 261.2L304.5 261.2L305.0 261.2L305.5 261.2L306.0 261.2L306.5 261.2L307.0 261.2L307.5 261.2L308.0 261.2L308.5 261.2L309.0 261.2L309.5 261.2L310.0 261.2L310.5 261.2L311.0 261.2L311.5 261.2L312.0 261.2L312.5 261.2L313.0 261.2L313.5 261.2L314.0 261.2L314.5 261.2L315.0 261.2L315.5 261.2L316.0 261.2L316.5 261.2L317.0 261.2L317.5 261.2L318.0 261.2L318.5 261.2L319.0 261.2L319.5 261.2L320.0 261.2L320.5 261.2L321.0 261.2L321.5 261.2L322.0 261.2L322.5 261.2L323.0 261.2L323.5 261.2L324.0 261.2L324.5 261.2L325.0 261.2L325.5 261.2L326.0 261.2L326.5 261.2L327.0 261.2L327.5 261.2L328.0 261.2L328.5 261.2L329.0 261.2L329.5 261.2L330.0 261.2L330.5 261.2L331.0 261.2L331.5 261.2L332.0 261.2L332.5 261.2L333.0 261.2L333.5 261.2L334.0 261.2L334.5 261.2L335.0 261.2L335.5 261.2L336.0 261.2L336.5 261.2L337.0 261.2L337.5 261.2L338.0 261.2L338.5 261.2L339.0 261.2L339.5 261.2L340.0 261.2L340.5 261.2L341.0 261.2L341.5 261.2L342.0 261.2L342.5 261.2L343.0 261.2L343.5 261.2L344.0 261.2L344.5 261.2L345.0 261.2L345.5 261.2L346.0 261.2L346.5 261.2L347.0 261.2L347.5 261.2L348.0 261.2L348.5 261.2L349.0 261.2L349.5 261.2L350.0 261.2L350.5 261.2L351.0 261.2L351.5 261.2L352.0 261.2L352.5 261.2L353.0 261.2L353.5 261.2L354.0 261.2L354.5 261.2L355.0 261.2L355.5 261.2L356.0 261.2L356.5 261.2L357.0 261.2L357.5 261.2L358.0 261.2L358.5 261.2L359.0 261.2L359.5 261.2L360.0 261.2L360.5 261.2L361.0 261.2L361.5 261.2L362.0 261.2L362.5 261.2L363.0 261.2L363.5 261.2L364.0 261.2L364.5 261.2L365.0 261.2L365.5 261.2L366.0 261.2L366.5 261.2L367.0 261.2L367.5 261.2L368.0 261.2L368.5 261.2L369.0 261.2L369.5 261.2L370.0 261.2L370.5 261.2L371.0 261.2L371.5 261.2L372.0 261.2L372.5 261.2L373.0 261.2L373.5 261.2L374.0 261.2L374.5 261.2L375.0 261.2L375.5 261.2L376.0 261.2L376.5 261.2L377.0 261.2L377.5 261.2L378.0 261.2L378.5 261.2L379.0 261.2L379.5 261.2L380.0 261.2L380.5 261.2L381.0 261.2L381.5 261.2L382.0 261.2L382.5 261.2L383.0 261.2L383.5 261.2L384.0 261.2L384.5 261.2L385.0 261.2L385.5 261.2L386.0 261.2L386.5 261.2L387.0 261.2L387.5 261.2L388.0 261.2L388.5 261.2L389.0 261.2L389.5 261.2L390.0 261.2L390.5 261.2L391.0 261.2L391.5 261.2L392.0 261.2L392.5 261.2L393.0 261.2L393.5 261.2L394.0 261.2L394.5 261.2L395.0 261.2L395.5 261.2L396.0 261.2L396.5 261.2L397.0 261.2L397.5 261.2L398.0 261.2L398.5 261.2L399.0 261.2L399.5 261.2L400.0 261.2L400.5 261.2L401.0 261.2L401.5 261.2L402.0 261.2L402.5 261.2L403.0 261.2L403.5 261.2L404.0 261.2L404.5 261.2L405.0 261.2L405.5 261.2L406.0 261.2L406.5 261.2L407.0 261.2L407.5 261.2L408.0 261.2L408.5 261.2L409.0 261.2L409.5 261.2L410.0 261.2L410.5 261.2L411.0 261.2L411.5 261.2L412.0 261.2L412.5 261.2L413.0 261.2L413.5 261.2L414.0 261.2L414.5 261.2L415.0 261.2L415.5 261.2L416.0 261.2L416.5 261.2L417.0 261.2L417.5 261.2L418.0 261.2L418.5 261.2L419.0 261.2L419.5 261.2L420.0 261.2L420.5 261.2L421.0 261.2L421.5 261.2L422.0 261.2L422.5 261.2L423.0 261.2L423.5 261.2L424.0 261.2L424.5 261.2L425.0 261.2L425.5 261.2L426.0 261.2L426.5 261.2L427.0 261.2L427.5 261.2L428.0 261.2L428.5 261.2L429.0 261.2L429.5 261.2L430.0 261.2L430.5 261.2L431.0 261.2L431.5 261.2L432.0 261.2L432.5 261.2L433.0 261.2L433.5 261.2L434.0 261.2L434.5 261.2L435.0 261.2L435.5 261.2L436.0 261.2L436.5 261.2L437.0 261.2L437.5 261.2L438.0 261.2L438.5 261.2L439.0 261.2L439.5 261.2L440.0 261.2L440.5 261.2L441.0 261.2L441.5 261.2L442.0 261.2L442.5 261.2L443.0 261.2L443.5 261.2L444.0 261.2L444.5 261.2L445.0 261.2L445.5 261.2L446.0 261.2L446.5 261.2L447.0 261.2L447.5 261.2L448.0 261.2L448.5 261.2L449.0 261.2L449.5 261.2L450.0 261.2L450.5 261.2L451.0 261.2L451.5 261.2L452.0 261.2L452.5 261.2L453.0 261.2L453.5 261.2L454.0 261.2L454.5 261.2L455.0 261.2L455.5 261.2L456.0 261.2L456.5 261.2L457.0 261.2L457.5 261.2L458.0 261.2L458.5 261.2L459.0 261.2L459.5 261.2L460.0 261.2L460.5 261.2L461.0 261.2L461.5 261.2L462.0 261.2L462.5 261.2L463.0 261.2L463.5 261.2L464.0 261.2L464.5 261.2L465.0 261.2L465.5 261.2L466.0 261.2L466.5 261.2L467.0 261.2L467.5 261.2L468.0 261.2L468.5 261.2L469.0 261.2L469.5 261.2L470.0 261.2L470.5 261.2L471.0 261.2L471.5 261.2L472.0 261.2L472.5 261.2L473.0 261.2L473.5 261.2L474.0 261.2L474.5 261.2L475.0 261.2L475.5 261.2L476.0 261.2L476.5 261.2L477.0 261.2L477.5 261.2L478.0 261.2L478.5 261.2L479.0 261.2L479.5 261.2L480.0 261.2L480.5 261.2L481.0 261.2L481.5 261.2L482.0 261.2L482.5 261.2L483.0 261.2L483.5 261.2L484.0 261.2L484.5 261.2L485.0 261.2L485.5 261.2L486.0 261.2L486.5 261.2L487.0 261.2L487.5 261.2L488.0 261.2L488.5 261.2L489.0 261.2L489.5 261.2L490.0 261.2L490.5 261.2L491.0 261.2L491.5 261.2L492.0 261.2L492.5 261.2L493.0 261.2L493.5 261.2L494.0 261.2L494.5 261.2L495.0 261.2L495.5 261.2L496.0 261.2L496.5 261.2L497.0 261.2L497.5 261.2L498.0 261.2L498.5 261.2L499.0 261.2L499.5 261.2L500.0 261.2L500.5 261.2L501.0 261.2L501.5 261.2L502.0 261.2L502.5 261.2L503.0 261.2L503.5 261.2L504.0 261.2L504.5 261.2L505.0 261.2L505.5 261.2L506.0 261.2L506.5 261.2L507.0 261.2L507.5 261.2L508.0 261.2L508.5 261.2L509.0 261.2L509.5 261.2L510.0 261.2L510.5 261.2L511.0 261.2L511.5 261.2L512.0 261.2L512.5 261.2L513.0 261.2L513.5 261.2L514.0 261.2" fill="none" stroke="#18e418" stroke-width="2"/>
<path d="M157.8 258.8L158.2 254.7L158.7 259.4L159.1 254.7L159.6 259.5L160.0 254.2L160.5 258.0L160.9 254.4L161.4 257.6L161.8 254.9L162.3 257.1L162.7 254.8L163.2 256.9L163.6 254.2L164.1 257.4L164.5 253.8L165.0 259.2L165.4 253.0L165.9 255.6L166.3 252.0L166.8 255.2L167.2 251.8L167.7 254.7L168.1 251.5L168.6 255.7L169.0 251.4L169.5 254.4L169.9 250.6L170.4 252.9L170.8 250.9L171.3 254.0L171.7 246.1L172.2 253.1L172.6 248.9L173.1 252.8L173.5 248.7L174.0 251.3L174.4 247.2L174.9 251.3L175.3 247.6L175.8 249.6L176.2 245.9L176.7 249.3L177.1 245.9L177.6 248.4L178.0 243.8L178.5 248.0L178.9 244.0L179.4 246.5L179.8 242.9L180.3 245.5L180.7 241.8L181.2 245.8L181.6 241.6L182.1 244.8L182.5 237.0L183.0 245.4L183.4 239.1L183.9 241.2L184.3 236.6L184.8 241.3L185.2 235.2L185.7 239.2L186.1 236.2L186.6 238.5L187.0 232.9L187.5 236.1L187.9 231.8L188.4 234.6L188.8 230.8L189.3 234.4L189.7 229.0L190.2 234.0L190.6 229.6L191.1 231.7L191.5 227.8L192.0 230.2L192.4 226.8L192.9 228.6L193.3 224.5L193.8 230.0L194.2 222.8L194.7 226.8L195.1 222.3L195.6 225.4L196.0 215.9L196.5 222.1L196.9 217.0L197.4 221.2L197.8 216.6L198.3 219.3L198.7 213.9L199.2 217.1L199.6 210.0L200.1 215.8L200.5 212.5L201.0 215.5L201.4 209.8L201.9 213.2L202.3 207.1L202.8 211.3L203.2 206.9L203.7 209.7L204.1 204.7L204.6 207.4L205.0 203.6L205.5 205.9L205.9 200.6L206.4 203.7L206.8 198.3L207.3 202.2L207.7 198.4L208.2 200.2L208.6 196.4L209.1 203.2L209.5 189.9L210.0 198.8L210.4 193.4L210.9 197.0L211.3 187.5L211.8 194.3L212.2 190.4L212.7 198.1L213.1 188.2L213.6 191.9L214.0 187.5L214.5 190.3L214.9 185.4L215.4 188.1L215.8 182.7L216.3 185.8L216.7 181.5L217.2 186.0L217.6 180.9L218.1 183.6L218.5 179.4L219.0 185.4L219.4 177.0L219.9 184.6L220.3 175.1L220.8 179.9L221.2 173.3L221.7 181.2L222.1 172.2L222.6 176.2L223.0 169.6L223.5 174.5L223.9 168.7L224.4 171.2L224.8 165.8L225.3 169.6L225.7 165.0L226.2 169.2L226.6 163.4L227.1 167.0L227.5 161.0L228.0 162.4L228.4 157.7L228.9 161.6L229.3 155.2L229.8 158.9L230.2 152.2L230.7 155.7L231.1 149.7L231.6 150.8L232.0 146.0L232.5 152.7L232.9 141.0L233.4 143.9L233.8 137.4L234.3 144.2L234.7 130.6L235.2 133.1L235.6 122.9L236.1 130.3L236.5 120.8L237.0 125.0L237.4 117.1L237.9 118.7L238.3 112.0L238.8 112.7L239.2 104.8L239.7 106.5L240.1 99.5L240.6 101.1L241.0 94.9L241.5 94.6L241.9 82.2L242.4 94.1L242.8 81.3L243.3 86.8L243.7 76.4L244.2 81.8L244.6 75.1L245.1 75.5L245.5 70.2L246.0 71.9L246.4 67.4L246.9 75.2L247.3 56.8L247.8 71.1L248.2 60.1L248.7 63.7L249.1 56.0L249.6 60.1L250.0 56.6L250.5 63.4L250.9 56.2L251.4 62.2L251.8 59.2L252.3 64.0L252.7 61.9L253.2 69.5L253.6 67.2L254.1 74.1L254.5 72.2L255.0 80.0L255.4 76.8L255.9 87.0L256.3 83.3L256.8 92.2L257.2 92.0L257.7 98.8L258.1 99.4L258.6 106.3L259.0 105.5L259.5 118.6L259.9 115.3L260.4 124.1L260.8 121.8L261.3 132.7L261.7 131.2L262.2 138.4L262.6 134.0L263.1 147.2L263.5 146.8L264.0 154.6L264.4 156.8L264.9 164.0L265.3 163.1L265.8 171.9L266.2 171.7L266.7 180.2L267.1 180.9L267.6 186.3L268.0 186.7L268.5 192.7L268.9 191.5L269.4 195.9L269.8 194.8L270.3 199.9L270.7 198.7L271.2 204.6L271.6 201.1L272.1 206.6L272.5 206.0L273.0 210.9L273.4 210.2L273.9 214.3L274.3 214.7L274.8 218.2L275.2 218.5L275.7 223.4L276.1 222.5L276.6 227.6L277.0 224.8L277.5 230.0L277.9 228.7L278.4 234.8L278.8 233.1L279.3 239.9L279.7 234.9L280.2 238.8L280.6 237.5L281.1 240.4L281.5 238.8L282.0 242.4L282.4 240.9L282.9 245.3L283.3 242.6L283.8 245.7L284.2 242.9L284.7 247.4L285.1 244.8L285.6 248.0L286.0 245.8L286.5 249.3L286.9 247.0L287.4 250.3L287.8 248.7L288.3 251.9L288.7 248.4L289.2 252.8L289.6 249.8L290.1 252.4L290.5 250.9L291.0 253.1L291.4 248.5L291.9 256.4L292.3 252.1L292.8 254.5L293.2 251.8L293.7 255.5L294.1 249.8L294.6 255.5L295.0 254.3L295.5 257.7L295.9 255.1L296.4 256.7L296.8 254.8L297.3 257.6L297.7 255.8L298.2 258.6L298.6 255.6L299.1 258.3L299.5 256.1L300.0 259.1L300.4 256.0L300.9 258.9L301.3 257.4L301.8 260.0L302.2 258.1L302.7 260.8L303.1 256.7L303.6 262.9L304.0 257.3L304.5 260.3L304.9 257.2L305.4 260.4L305.8 259.0L306.3 260.3L306.7 258.4L307.2 260.5L307.6 257.7L308.1 261.6L308.5 258.6L309.0 261.8L309.4 259.0L309.9 265.0L310.3 258.6L310.8 261.7L311.2 259.5L311.7 261.4L312.1 256.9L312.6 261.8L313.0 260.0L313.5 262.9L313.9 259.9L314.4 265.0L314.8 260.3L315.3 262.5L315.7 259.4L316.2 261.8L316.6 258.9L317.1 262.0L317.5 260.2L318.0 263.0L318.4 260.2L318.9 263.3L319.3 260.4L319.8 262.5L320.2 259.7L320.7 263.4L321.1 259.5L321.6 262.5" fill="none" stroke="#f01010" stroke-width="1.2"/>
<path d="M250.9 53.6L251.1 58L250.8 62" fill="none" stroke="#111" stroke-width="1.4"/>
<path d="M136.5 260.9L136.9 260.8L137.3 260.8L137.7 260.8L138.1 260.8L138.5 260.8L138.9 260.8L139.3 260.7L139.7 260.7L140.1 260.7L140.5 260.7L140.9 260.6L141.3 260.6L141.7 260.6L142.1 260.6L142.5 260.5L142.9 260.5L143.3 260.5L143.7 260.5L144.1 260.4L144.5 260.4L144.9 260.4L145.3 260.3L145.7 260.3L146.1 260.2L146.5 260.2L146.9 260.2L147.3 260.1L147.7 260.1L148.1 260.0L148.5 260.0L148.9 259.9L149.3 259.9L149.7 259.8L150.1 259.8L150.5 259.7L150.9 259.7L151.3 259.6L151.7 259.5L152.1 259.5L152.5 259.4L152.9 259.3L153.3 259.3L153.7 259.2L154.1 259.1L154.5 259.1L154.9 259.0L155.3 258.9L155.7 258.8L156.1 258.7L156.5 258.6L156.9 258.5L157.3 258.4L157.7 258.3L158.1 258.2L158.5 258.1L158.9 258.0L159.3 257.9L159.7 257.8L160.1 257.7L160.5 257.5L160.9 257.4L161.3 257.3L161.7 257.1L162.1 257.0L162.5 256.9L162.9 256.7L163.3 256.6L163.7 256.4L164.1 256.3L164.5 256.1L164.9 255.9L165.3 255.7L165.7 255.6L166.1 255.4L166.5 255.2L166.9 255.0L167.3 254.8L167.7 254.6L168.1 254.4L168.5 254.2L168.9 254.0L169.3 253.7L169.7 253.5L170.1 253.3L170.5 253.0L170.9 252.8L171.3 252.5L171.7 252.3L172.1 252.0L172.5 251.7L172.9 251.5L173.3 251.2L173.7 250.9L174.1 250.6L174.5 250.3L174.9 250.0L175.3 249.7L175.7 249.4L176.1 249.0L176.5 248.7L176.9 248.3L177.3 248.0L177.7 247.6L178.1 247.3L178.5 246.9L178.9 246.5L179.3 246.1L179.7 245.7L180.1 245.3L180.5 244.9L180.9 244.5L181.3 244.1L181.7 243.7L182.1 243.2L182.5 242.8L182.9 242.3L183.3 241.9L183.7 241.4L184.1 240.9L184.5 240.4L184.9 239.9L185.3 239.4L185.7 238.9L186.1 238.4L186.5 237.9L186.9 237.4L187.3 236.8L187.7 236.3L188.1 235.7L188.5 235.2L188.9 234.6L189.3 234.0L189.7 233.4L190.1 232.8L190.5 232.2L190.9 231.6L191.3 231.0L191.7 230.4L192.1 229.8L192.5 229.2L192.9 228.5L193.3 227.9L193.7 227.2L194.1 226.6L194.5 225.9L194.9 225.2L195.3 224.6L195.7 223.9L196.1 223.2L196.5 222.5L196.9 221.8L197.3 221.1L197.7 220.4L198.1 219.7L198.5 219.0L198.9 218.3L199.3 217.5L199.7 216.8L200.1 216.1L200.5 215.3L200.9 214.6L201.3 213.9L201.7 213.1L202.1 212.4L202.5 211.7L202.9 210.9L203.3 210.2L203.7 209.4L204.1 208.7L204.5 207.9L204.9 207.2L205.3 206.4L205.7 205.7L206.1 204.9L206.5 204.2L206.9 203.4L207.3 202.7L207.7 201.9L208.1 201.2L208.5 200.5L208.9 199.7L209.3 199.0L209.7 198.2L210.1 197.5L210.5 196.8L210.9 196.1L211.3 195.4L211.7 194.6L212.1 193.9L212.5 193.2L212.9 192.5L213.3 191.8L213.7 191.1L214.1 190.4L214.5 189.7L214.9 189.1L215.3 188.4L215.7 187.7L216.1 187.0L216.5 186.3L216.9 185.7L217.3 185.0L217.7 184.3L218.1 183.7L218.5 183.0L218.9 182.3L219.3 181.6L219.7 181.0L220.1 180.3L220.5 179.6L220.9 178.9L221.3 178.2L221.7 177.5L222.1 176.8L222.5 176.0L222.9 175.3L223.3 174.5L223.7 173.7L224.1 172.9L224.5 172.1L224.9 171.3L225.3 170.4L225.7 169.5L226.1 168.6L226.5 167.6L226.9 166.6L227.3 165.6L227.7 164.5L228.1 163.4L228.5 162.3L228.9 161.1L229.3 159.9L229.7 158.6L230.1 157.3L230.5 155.9L230.9 154.4L231.3 152.9L231.7 151.3L232.1 149.6L232.5 147.9L232.9 146.1L233.3 144.3L233.7 142.3L234.1 140.4L234.5 138.3L234.9 136.2L235.3 134.1L235.7 131.9L236.1 129.6L236.5 127.3L236.9 124.9L237.3 122.5L237.7 120.1L238.1 117.6L238.5 115.1L238.9 112.6L239.3 110.1L239.7 107.6L240.1 105.1L240.5 102.6L240.9 100.1L241.3 97.7L241.7 95.3L242.1 93.0L242.5 90.7L242.9 88.6L243.3 86.5L243.7 84.5L244.1 82.7L244.5 81.0L244.9 79.5L245.3 78.1L245.7 76.9L246.1 75.7L246.5 74.7L246.9 73.7L247.3 72.8L247.7 72.0L248.1 71.2L248.5 70.5L248.9 69.8L249.3 69.4L249.7 69.1L250.1 69.0L250.5 69.0L250.9 69.3L251.3 69.8L251.7 70.5L252.1 71.4L252.5 72.4L252.9 73.7L253.3 75.1L253.7 76.6L254.1 78.4L254.5 80.3L254.9 82.3L255.3 84.6L255.7 86.9L256.1 89.4L256.5 92.1L256.9 94.9L257.3 97.8L257.7 100.8L258.1 103.9L258.5 107.1L258.9 110.4L259.3 113.8L259.7 117.3L260.1 120.8L260.5 124.3L260.9 127.9L261.3 131.5L261.7 135.2L262.1 138.8L262.5 142.4L262.9 146.1L263.3 149.7L263.7 153.3L264.1 156.8L264.5 160.3L264.9 163.8L265.3 167.3L265.7 170.8L266.1 174.4L266.5 178.1L266.9 181.8L267.3 185.1L267.7 187.9L268.1 190.4L268.5 192.5L268.9 194.3L269.3 196.1L269.7 197.7L270.1 199.2L270.5 200.8L270.9 202.3L271.3 204.0L271.7 205.7L272.1 207.4L272.5 209.1L272.9 210.8L273.3 212.5L273.7 214.2L274.1 215.9L274.5 217.6L274.9 219.4L275.3 221.1L275.7 222.8L276.1 224.5L276.5 226.2L276.9 227.8L277.3 229.4L277.7 231.0L278.1 232.5L278.5 234.0L278.9 235.3L279.3 236.5L279.7 237.5L280.1 238.5L280.5 239.4L280.9 240.3L281.3 241.1L281.7 241.8L282.1 242.5L282.5 243.2L282.9 243.8L283.3 244.4L283.7 245.0L284.1 245.5L284.5 246.0L284.9 246.5L285.3 247.0L285.7 247.4L286.1 247.8L286.5 248.2L286.9 248.6L287.3 248.9L287.7 249.3L288.1 249.6L288.5 249.9L288.9 250.1L289.3 250.4L289.7 250.7L290.1 250.9L290.5 251.2L290.9 251.4L291.3 251.7L291.7 251.9L292.1 252.2L292.5 252.5L292.9 252.7L293.3 253.0L293.7 253.2L294.1 253.5L294.5 253.7L294.9 254.0L295.3 254.2L295.7 254.5L296.1 254.7L296.5 254.9L296.9 255.1L297.3 255.4L297.7 255.5L298.1 255.7L298.5 255.9L298.9 256.1L299.3 256.3L299.7 256.5L300.1 256.7L300.5 256.8L300.9 257.0L301.3 257.1L301.7 257.3L302.1 257.4L302.5 257.5L302.9 257.7L303.3 257.8L303.7 257.9L304.1 258.0L304.5 258.1L304.9 258.2L305.3 258.2L305.7 258.3L306.1 258.4L306.5 258.5L306.9 258.5L307.3 258.6L307.7 258.7L308.1 258.7L308.5 258.8L308.9 258.9L309.3 258.9L309.7 259.0L310.1 259.1L310.5 259.1L310.9 259.2L311.3 259.2L311.7 259.3L312.1 259.3L312.5 259.4L312.9 259.4L313.3 259.5L313.7 259.5L314.1 259.6L314.5 259.6L314.9 259.7L315.3 259.7L315.7 259.7L316.1 259.8L316.5 259.8L316.9 259.8L317.3 259.9L317.7 259.9L318.1 259.9L318.5 260.0L318.9 260.0L319.3 260.0L319.7 260.0L320.1 260.1L320.5 260.1L320.9 260.1L321.3 260.2L321.7 260.2L322.1 260.2L322.5 260.2L322.9 260.3L323.3 260.3L323.7 260.3L324.1 260.3L324.5 260.3L324.9 260.3L325.3 260.4L325.7 260.4L326.1 260.4L326.5 260.4" fill="none" stroke="url(#bg1)" stroke-width="2"/>
<!-- annotations -->
<g class="sr" style="font-weight:bold;fill:#111">
<text transform="translate(236.4,47.3) scale(1.14,1)" style="font-size:14.2px">002</text>
<text transform="translate(280.1,124.6) scale(1.05,1)" style="font-size:12.8px">MDCC</text>
<text transform="translate(174.5,141.2) scale(1.06,1)" style="font-size:13px">LDCC</text>
<text transform="translate(370.7,222.2) scale(1.1,1)" style="font-size:13.5px">10</text>
<text transform="translate(386.4,222.2) scale(1.3,1)" style="font-size:14px;font-style:italic">l</text>
</g>
</svg>
</body></html>
